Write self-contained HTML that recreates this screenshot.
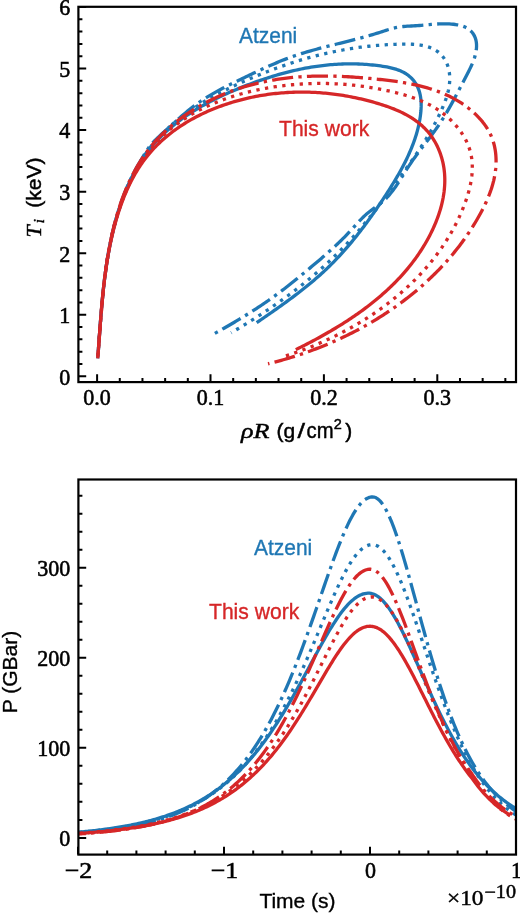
<!DOCTYPE html><html><head><meta charset="utf-8"><style>html,body{margin:0;padding:0;background:#fff;width:520px;height:914px;overflow:hidden}svg{display:block}.tl{font-family:"Liberation Serif",serif;font-size:22px;fill:#000;stroke:#000;stroke-width:0.55px}.sl{font-family:"Liberation Sans",sans-serif;font-size:21px;stroke-width:0.35px}.lab{stroke:#000;stroke-width:0.45px}</style></head><body>
<svg width="520" height="914" viewBox="0 0 520 914">
<rect width="520" height="914" fill="#fff"/>
<defs><clipPath id="ct"><rect x="78.4" y="6.8" width="437.6" height="375.3"/></clipPath><clipPath id="cb"><rect x="78.4" y="479.5" width="437.6" height="375.1"/></clipPath></defs>
<g clip-path="url(#ct)" fill="none" stroke-width="3.30" stroke-linejoin="round">
<path d="M97.86,356.44 L98.01,354.47 L98.16,352.49 L98.31,350.51 L98.46,348.53 L98.60,346.55 L98.75,344.57 L98.90,342.59 L99.04,340.61 L99.19,338.62 L99.34,336.64 L99.48,334.65 L99.63,332.66 L99.78,330.67 L99.93,328.68 L100.08,326.69 L100.23,324.70 L100.38,322.71 L100.54,320.72 L100.70,318.72 L100.86,316.73 L101.02,314.74 L101.19,312.74 L101.35,310.75 L101.52,308.75 L101.70,306.76 L101.88,304.77 L102.06,302.77 L102.24,300.78 L102.43,298.79 L102.63,296.79 L102.83,294.80 L103.03,292.81 L103.24,290.82 L103.45,288.83 L103.67,286.84 L103.89,284.85 L104.12,282.86 L104.36,280.87 L104.60,278.89 L104.85,276.90 L105.10,274.92 L105.36,272.94 L105.63,270.96 L105.91,268.98 L106.19,267.00 L106.48,265.02 L106.78,263.04 L107.08,261.07 L107.40,259.10 L107.72,257.13 L108.05,255.16 L108.39,253.19 L108.74,251.23 L109.10,249.27 L109.47,247.31 L109.84,245.35 L110.23,243.39 L110.63,241.44 L111.04,239.49 L111.45,237.54 L111.88,235.60 L112.32,233.65 L112.77,231.71 L113.23,229.78 L113.70,227.84 L114.19,225.91 L114.68,223.98 L115.19,222.06 L115.71,220.14 L116.24,218.22 L116.79,216.30 L117.35,214.39 L117.92,212.48 L118.50,210.58 L119.10,208.68 L119.71,206.78 L120.34,204.89 L120.98,203.00 L121.63,201.11 L122.30,199.23 L122.98,197.36 L123.68,195.49 L124.40,193.62 L125.13,191.77 L125.87,189.91 L126.64,188.07 L127.42,186.23 L128.22,184.39 L129.03,182.57 L129.86,180.75 L130.72,178.94 L131.58,177.14 L132.47,175.34 L133.38,173.56 L134.31,171.78 L135.25,170.01 L136.22,168.25 L137.20,166.51 L138.20,164.77 L139.22,163.03 L140.25,161.31 L141.28,159.59 L142.32,157.88 L143.36,156.17 L144.39,154.47 L145.43,152.78 L146.48,151.11 L147.55,149.46 L148.65,147.84 L149.80,146.26 L150.99,144.73 L152.24,143.25 L153.55,141.82 L154.91,140.44 L156.31,139.08 L157.74,137.75 L159.19,136.42 L160.64,135.09 L162.09,133.75 L163.55,132.41 L165.00,131.06 L166.47,129.72 L167.93,128.37 L169.41,127.02 L170.88,125.67 L172.36,124.32 L173.85,122.97 L175.34,121.63 L176.84,120.29 L178.35,118.96 L179.86,117.63 L181.38,116.31 L182.91,115.01 L184.45,113.71 L186.00,112.42 L187.55,111.14 L189.12,109.88 L190.69,108.63 L192.28,107.40 L193.87,106.18 L195.48,104.99 L197.10,103.81 L198.73,102.64 L200.37,101.50 L202.02,100.38 L203.69,99.29 L205.37,98.21 L207.06,97.15 L208.76,96.10 L210.47,95.08 L212.18,94.07 L213.91,93.07 L215.65,92.09 L217.39,91.13 L219.15,90.17 L220.90,89.23 L222.67,88.30 L224.44,87.38 L226.22,86.47 L228.00,85.57 L229.79,84.67 L231.58,83.78 L233.37,82.90 L235.17,82.02 L236.97,81.15 L238.78,80.28 L240.58,79.41 L242.39,78.55 L244.19,77.68 L246.00,76.82 L247.81,75.95 L249.62,75.08 L251.42,74.22 L253.23,73.36 L255.04,72.50 L256.86,71.64 L258.67,70.79 L260.48,69.94 L262.30,69.10 L264.12,68.26 L265.94,67.43 L267.76,66.60 L269.59,65.79 L271.42,64.98 L273.25,64.18 L275.08,63.39 L276.92,62.61 L278.76,61.84 L280.61,61.09 L282.46,60.34 L284.32,59.61 L286.18,58.89 L288.04,58.19 L289.91,57.50 L291.78,56.83 L293.66,56.17 L295.55,55.53 L297.43,54.89 L299.33,54.28 L301.23,53.67 L303.13,53.08 L305.03,52.50 L306.94,51.93 L308.85,51.37 L310.77,50.82 L312.69,50.28 L314.61,49.74 L316.54,49.22 L318.46,48.70 L320.39,48.19 L322.32,47.68 L324.26,47.18 L326.19,46.68 L328.13,46.19 L330.07,45.70 L332.01,45.22 L333.95,44.73 L335.89,44.25 L337.83,43.77 L339.77,43.29 L341.71,42.81 L343.66,42.33 L345.60,41.84 L347.54,41.36 L349.48,40.87 L351.42,40.38 L353.36,39.89 L355.30,39.39 L357.23,38.88 L359.17,38.37 L361.10,37.86 L363.03,37.33 L364.96,36.80 L366.89,36.27 L368.82,35.72 L370.74,35.16 L372.66,34.60 L374.57,34.02 L376.49,33.43 L378.40,32.83 L380.30,32.22 L382.20,31.60 L384.10,30.97 L386.00,30.35 L387.91,29.75 L389.81,29.17 L391.72,28.63 L393.64,28.13 L395.57,27.69 L397.51,27.30 L399.46,26.98 L401.42,26.72 L403.39,26.51 L405.37,26.34 L407.36,26.20 L409.35,26.09 L411.34,25.98 L413.34,25.88 L415.34,25.76 L417.33,25.64 L419.33,25.49 L421.32,25.33 L423.32,25.15 L425.31,24.98 L427.30,24.79 L429.30,24.61 L431.29,24.44 L433.29,24.28 L435.28,24.13 L437.28,24.01 L439.28,23.91 L441.28,23.84 L443.28,23.80 L445.29,23.79 L447.29,23.84 L449.31,23.92 L451.32,24.06 L453.34,24.25 L455.36,24.51 L457.38,24.83 L459.38,25.23 L461.35,25.73 L463.26,26.34 L465.10,27.08 L466.85,27.97 L468.49,29.00 L470.01,30.21 L471.39,31.56 L472.63,33.04 L473.71,34.65 L474.62,36.36 L475.36,38.16 L475.91,40.03 L476.29,41.97 L476.50,43.96 L476.56,45.97 L476.48,48.01 L476.27,50.05 L475.95,52.08 L475.53,54.09 L475.02,56.07 L474.44,58.01 L473.78,59.92 L473.06,61.81 L472.29,63.67 L471.47,65.51 L470.62,67.33 L469.75,69.13 L468.86,70.92 L467.96,72.70 L467.06,74.46 L466.15,76.22 L465.24,77.97 L464.33,79.72 L463.41,81.47 L462.50,83.22 L461.58,84.98 L460.66,86.74 L459.73,88.50 L458.81,90.26 L457.88,92.03 L456.95,93.80 L456.02,95.57 L455.08,97.34 L454.13,99.10 L453.18,100.87 L452.22,102.63 L451.26,104.39 L450.28,106.14 L449.30,107.89 L448.31,109.64 L447.30,111.38 L446.29,113.11 L445.26,114.83 L444.23,116.54 L443.18,118.25 L442.12,119.95 L441.04,121.63 L439.95,123.30 L438.84,124.97 L437.72,126.61 L436.58,128.25 L435.44,129.88 L434.28,131.49 L433.10,133.10 L431.92,134.70 L430.74,136.30 L429.54,137.89 L428.34,139.47 L427.14,141.05 L425.93,142.63 L424.72,144.21 L423.51,145.79 L422.30,147.37 L421.10,148.95 L419.90,150.54 L418.70,152.13 L417.51,153.72 L416.33,155.32 L415.15,156.93 L413.98,158.54 L412.83,160.17 L411.69,161.81 L410.56,163.45 L409.45,165.11 L408.35,166.79 L407.27,168.47 L406.20,170.17 L405.13,171.86 L404.07,173.57 L403.01,175.27 L401.95,176.97 L400.89,178.67 L399.82,180.36 L398.74,182.04 L397.65,183.71 L396.54,185.36 L395.41,187.00 L394.25,188.61 L393.08,190.21 L391.87,191.77 L390.64,193.31 L389.37,194.82 L388.06,196.29 L386.72,197.73 L385.33,199.12 L383.89,200.48 L382.41,201.79 L380.88,203.07 L379.32,204.31 L377.73,205.53 L376.13,206.73 L374.51,207.93 L372.90,209.13 L371.29,210.33 L369.69,211.55 L368.12,212.79 L366.58,214.06 L365.08,215.37 L363.62,216.73 L362.20,218.12 L360.81,219.54 L359.45,220.98 L358.09,222.43 L356.75,223.90 L355.41,225.37 L354.07,226.84 L352.73,228.31 L351.39,229.78 L350.04,231.25 L348.68,232.71 L347.31,234.16 L345.93,235.60 L344.53,237.03 L343.12,238.44 L341.70,239.85 L340.27,241.24 L338.83,242.63 L337.39,244.01 L335.93,245.38 L334.47,246.74 L333.00,248.09 L331.52,249.43 L330.04,250.77 L328.56,252.10 L327.07,253.42 L325.57,254.73 L324.07,256.04 L322.57,257.35 L321.06,258.65 L319.55,259.94 L318.04,261.23 L316.52,262.52 L315.00,263.80 L313.47,265.08 L311.95,266.36 L310.42,267.63 L308.89,268.91 L307.36,270.18 L305.83,271.45 L304.29,272.72 L302.75,273.99 L301.22,275.25 L299.68,276.52 L298.13,277.78 L296.59,279.04 L295.04,280.29 L293.49,281.55 L291.93,282.79 L290.37,284.04 L288.81,285.28 L287.24,286.51 L285.67,287.74 L284.09,288.96 L282.51,290.17 L280.92,291.38 L279.33,292.58 L277.73,293.77 L276.12,294.95 L274.51,296.12 L272.89,297.29 L271.27,298.45 L269.64,299.60 L268.00,300.74 L266.36,301.88 L264.72,303.01 L263.07,304.13 L261.41,305.25 L259.75,306.35 L258.09,307.45 L256.42,308.55 L254.75,309.64 L253.07,310.72 L251.38,311.79 L249.70,312.86 L248.01,313.92 L246.31,314.98 L244.62,316.03 L242.91,317.08 L241.21,318.12 L239.50,319.15 L237.79,320.18 L236.08,321.21 L234.36,322.23 L232.64,323.24 L230.92,324.25 L229.19,325.26 L227.47,326.26 L225.74,327.25 L224.01,328.25 L222.27,329.23 L220.54,330.22 L218.80,331.20 L217.06,332.18 L215.32,333.15 L213.58,334.12 L211.84,335.08" stroke="#1f77b4" stroke-dasharray="21.12 5.28 3.30 5.28" stroke-dashoffset="21.0"/>
<path d="M97.84,356.49 L98.00,354.50 L98.15,352.52 L98.31,350.53 L98.46,348.54 L98.61,346.56 L98.76,344.57 L98.91,342.58 L99.06,340.59 L99.20,338.60 L99.35,336.61 L99.50,334.61 L99.65,332.62 L99.80,330.63 L99.95,328.64 L100.10,326.65 L100.25,324.65 L100.40,322.66 L100.56,320.67 L100.72,318.67 L100.88,316.68 L101.04,314.69 L101.20,312.70 L101.37,310.70 L101.54,308.71 L101.71,306.72 L101.89,304.73 L102.06,302.74 L102.25,300.75 L102.44,298.76 L102.63,296.77 L102.82,294.78 L103.03,292.79 L103.23,290.81 L103.44,288.82 L103.66,286.83 L103.88,284.85 L104.11,282.87 L104.34,280.88 L104.58,278.90 L104.83,276.92 L105.08,274.94 L105.34,272.96 L105.61,270.99 L105.88,269.01 L106.17,267.04 L106.45,265.07 L106.75,263.10 L107.06,261.13 L107.37,259.16 L107.70,257.19 L108.03,255.23 L108.37,253.27 L108.72,251.31 L109.08,249.35 L109.45,247.39 L109.83,245.44 L110.22,243.48 L110.62,241.53 L111.03,239.59 L111.45,237.64 L111.88,235.70 L112.32,233.75 L112.78,231.82 L113.24,229.88 L113.72,227.94 L114.21,226.01 L114.71,224.08 L115.23,222.16 L115.76,220.23 L116.30,218.31 L116.85,216.40 L117.42,214.48 L118.00,212.57 L118.60,210.66 L119.21,208.75 L119.83,206.85 L120.47,204.95 L121.12,203.06 L121.79,201.16 L122.47,199.28 L123.17,197.39 L123.88,195.52 L124.61,193.65 L125.35,191.78 L126.11,189.92 L126.89,188.07 L127.68,186.23 L128.49,184.39 L129.31,182.56 L130.16,180.74 L131.01,178.93 L131.89,177.13 L132.78,175.34 L133.69,173.56 L134.62,171.79 L135.56,170.03 L136.52,168.28 L137.50,166.55 L138.50,164.82 L139.52,163.11 L140.55,161.41 L141.61,159.73 L142.68,158.06 L143.77,156.40 L144.88,154.76 L146.01,153.13 L147.16,151.52 L148.33,149.92 L149.51,148.35 L150.72,146.78 L151.95,145.24 L153.20,143.71 L154.47,142.20 L155.75,140.70 L157.06,139.23 L158.39,137.77 L159.73,136.32 L161.10,134.90 L162.48,133.49 L163.88,132.09 L165.29,130.72 L166.73,129.36 L168.18,128.01 L169.64,126.68 L171.12,125.36 L172.62,124.06 L174.13,122.78 L175.66,121.51 L177.20,120.25 L178.76,119.01 L180.33,117.79 L181.91,116.58 L183.51,115.38 L185.12,114.19 L186.74,113.02 L188.37,111.87 L190.02,110.72 L191.67,109.59 L193.34,108.47 L195.02,107.37 L196.71,106.28 L198.41,105.20 L200.12,104.13 L201.83,103.07 L203.56,102.03 L205.30,101.00 L207.04,99.98 L208.79,98.97 L210.55,97.97 L212.31,96.98 L214.09,96.01 L215.87,95.04 L217.65,94.09 L219.44,93.14 L221.24,92.21 L223.04,91.28 L224.85,90.37 L226.66,89.46 L228.47,88.57 L230.29,87.68 L232.11,86.81 L233.94,85.94 L235.77,85.08 L237.60,84.23 L239.43,83.39 L241.26,82.55 L243.10,81.73 L244.93,80.91 L246.77,80.10 L248.61,79.30 L250.44,78.50 L252.28,77.71 L254.12,76.94 L255.96,76.16 L257.80,75.40 L259.64,74.65 L261.48,73.90 L263.33,73.16 L265.17,72.43 L267.02,71.70 L268.87,70.99 L270.71,70.28 L272.56,69.59 L274.42,68.90 L276.27,68.21 L278.12,67.54 L279.98,66.88 L281.84,66.22 L283.70,65.57 L285.56,64.93 L287.43,64.30 L289.30,63.68 L291.17,63.07 L293.04,62.47 L294.91,61.87 L296.79,61.28 L298.67,60.71 L300.55,60.14 L302.43,59.58 L304.32,59.03 L306.21,58.49 L308.11,57.96 L310.00,57.43 L311.90,56.92 L313.80,56.42 L315.71,55.92 L317.62,55.44 L319.53,54.96 L321.45,54.49 L323.37,54.04 L325.29,53.59 L327.22,53.15 L329.15,52.72 L331.08,52.30 L333.02,51.89 L334.96,51.50 L336.91,51.11 L338.86,50.73 L340.81,50.36 L342.77,50.00 L344.74,49.65 L346.70,49.31 L348.68,48.98 L350.65,48.66 L352.64,48.35 L354.62,48.06 L356.61,47.77 L358.61,47.49 L360.61,47.22 L362.62,46.96 L364.63,46.72 L366.65,46.48 L368.67,46.26 L370.70,46.04 L372.73,45.84 L374.77,45.64 L376.81,45.46 L378.86,45.29 L380.92,45.13 L382.98,44.98 L385.05,44.84 L387.12,44.71 L389.20,44.59 L391.28,44.49 L393.38,44.39 L395.47,44.31 L397.58,44.24 L399.69,44.18 L401.80,44.13 L403.92,44.10 L406.02,44.10 L408.12,44.12 L410.21,44.18 L412.29,44.27 L414.34,44.40 L416.37,44.58 L418.38,44.80 L420.36,45.08 L422.30,45.41 L424.20,45.80 L426.07,46.25 L427.89,46.78 L429.66,47.37 L431.38,48.05 L433.04,48.80 L434.64,49.64 L436.18,50.57 L437.66,51.59 L439.06,52.71 L440.39,53.92 L441.65,55.24 L442.82,56.64 L443.91,58.12 L444.91,59.69 L445.83,61.32 L446.65,63.02 L447.38,64.78 L448.01,66.60 L448.54,68.46 L448.97,70.36 L449.30,72.30 L449.54,74.27 L449.69,76.26 L449.75,78.27 L449.72,80.28 L449.61,82.30 L449.42,84.32 L449.16,86.33 L448.82,88.33 L448.41,90.32 L447.95,92.30 L447.42,94.28 L446.84,96.24 L446.21,98.19 L445.54,100.13 L444.82,102.05 L444.08,103.97 L443.30,105.87 L442.49,107.76 L441.67,109.64 L440.82,111.50 L439.97,113.35 L439.09,115.19 L438.21,117.01 L437.31,118.83 L436.40,120.63 L435.47,122.41 L434.53,124.19 L433.58,125.96 L432.61,127.72 L431.64,129.46 L430.65,131.20 L429.65,132.93 L428.64,134.65 L427.62,136.36 L426.60,138.06 L425.56,139.75 L424.51,141.44 L423.45,143.12 L422.39,144.79 L421.31,146.46 L420.23,148.12 L419.14,149.77 L418.05,151.42 L416.95,153.06 L415.84,154.70 L414.72,156.34 L413.60,157.97 L412.47,159.60 L411.34,161.22 L410.21,162.85 L409.07,164.47 L407.92,166.08 L406.78,167.70 L405.63,169.31 L404.47,170.93 L403.32,172.54 L402.16,174.16 L401.00,175.77 L399.84,177.38 L398.67,178.99 L397.51,180.61 L396.34,182.22 L395.17,183.83 L393.99,185.44 L392.82,187.05 L391.64,188.66 L390.46,190.27 L389.27,191.87 L388.08,193.47 L386.89,195.08 L385.70,196.68 L384.50,198.27 L383.30,199.87 L382.09,201.46 L380.88,203.05 L379.67,204.64 L378.45,206.23 L377.23,207.81 L376.00,209.38 L374.77,210.96 L373.53,212.53 L372.29,214.10 L371.05,215.66 L369.80,217.22 L368.54,218.78 L367.28,220.33 L366.01,221.87 L364.74,223.41 L363.46,224.95 L362.18,226.48 L360.89,228.01 L359.59,229.53 L358.29,231.04 L356.98,232.55 L355.67,234.05 L354.35,235.55 L353.02,237.04 L351.68,238.53 L350.34,240.01 L348.99,241.48 L347.64,242.94 L346.27,244.40 L344.90,245.85 L343.52,247.29 L342.14,248.73 L340.74,250.15 L339.34,251.57 L337.93,252.99 L336.52,254.39 L335.09,255.79 L333.66,257.18 L332.23,258.57 L330.78,259.94 L329.33,261.31 L327.87,262.67 L326.41,264.03 L324.94,265.38 L323.46,266.72 L321.98,268.05 L320.48,269.38 L318.99,270.70 L317.48,272.01 L315.97,273.32 L314.46,274.62 L312.94,275.91 L311.41,277.20 L309.88,278.48 L308.34,279.75 L306.79,281.02 L305.24,282.28 L303.69,283.53 L302.13,284.78 L300.56,286.02 L298.99,287.25 L297.41,288.48 L295.83,289.70 L294.24,290.91 L292.65,292.12 L291.06,293.32 L289.46,294.52 L287.85,295.71 L286.24,296.89 L284.63,298.07 L283.01,299.24 L281.38,300.41 L279.76,301.57 L278.12,302.72 L276.49,303.87 L274.85,305.01 L273.21,306.15 L271.56,307.28 L269.91,308.40 L268.25,309.52 L266.60,310.63 L264.94,311.74 L263.27,312.84 L261.60,313.94 L259.93,315.03 L258.26,316.12 L256.58,317.20 L254.90,318.27 L253.22,319.34 L251.53,320.40 L249.84,321.46 L248.15,322.52 L246.46,323.56 L244.76,324.61 L243.06,325.64 L241.36,326.68 L239.66,327.70 L237.96,328.73 L236.25,329.74 L234.54,330.76 L232.83,331.76 L231.12,332.77" stroke="#1f77b4" stroke-dasharray="3.30 5.44"/>
<path d="M97.86,356.61 L98.01,354.58 L98.17,352.55 L98.33,350.53 L98.48,348.51 L98.63,346.50 L98.78,344.48 L98.93,342.47 L99.08,340.46 L99.22,338.45 L99.37,336.45 L99.52,334.45 L99.67,332.45 L99.81,330.45 L99.96,328.45 L100.11,326.46 L100.26,324.47 L100.41,322.48 L100.57,320.49 L100.72,318.50 L100.88,316.52 L101.04,314.54 L101.20,312.55 L101.36,310.57 L101.53,308.60 L101.70,306.62 L101.87,304.64 L102.05,302.67 L102.23,300.69 L102.42,298.72 L102.60,296.75 L102.80,294.78 L103.00,292.81 L103.20,290.84 L103.41,288.88 L103.62,286.91 L103.84,284.94 L104.07,282.98 L104.30,281.01 L104.54,279.05 L104.79,277.08 L105.04,275.12 L105.30,273.16 L105.57,271.20 L105.84,269.23 L106.12,267.27 L106.41,265.31 L106.71,263.34 L107.02,261.38 L107.33,259.42 L107.66,257.46 L107.99,255.49 L108.34,253.53 L108.69,251.57 L109.05,249.60 L109.43,247.64 L109.81,245.67 L110.20,243.70 L110.61,241.74 L111.02,239.77 L111.45,237.80 L111.89,235.84 L112.34,233.87 L112.80,231.91 L113.28,229.94 L113.76,227.98 L114.26,226.02 L114.77,224.07 L115.30,222.11 L115.83,220.16 L116.38,218.21 L116.95,216.27 L117.52,214.33 L118.12,212.40 L118.72,210.47 L119.34,208.54 L119.97,206.62 L120.62,204.71 L121.28,202.80 L121.96,200.90 L122.65,199.01 L123.35,197.12 L124.08,195.24 L124.81,193.37 L125.57,191.51 L126.34,189.66 L127.12,187.81 L127.92,185.98 L128.74,184.15 L129.58,182.34 L130.43,180.54 L131.30,178.74 L132.18,176.96 L133.09,175.19 L134.01,173.43 L134.95,171.68 L135.90,169.95 L136.88,168.22 L137.87,166.52 L138.89,164.82 L139.92,163.14 L140.97,161.47 L142.04,159.82 L143.12,158.18 L144.23,156.56 L145.36,154.95 L146.51,153.36 L147.67,151.79 L148.86,150.23 L150.07,148.69 L151.30,147.17 L152.55,145.66 L153.82,144.17 L155.11,142.70 L156.42,141.25 L157.76,139.82 L159.11,138.40 L160.48,137.00 L161.87,135.62 L163.28,134.25 L164.70,132.91 L166.15,131.57 L167.61,130.26 L169.09,128.96 L170.59,127.68 L172.10,126.41 L173.63,125.16 L175.18,123.93 L176.74,122.71 L178.31,121.51 L179.90,120.32 L181.51,119.14 L183.13,117.99 L184.76,116.84 L186.40,115.71 L188.06,114.60 L189.73,113.50 L191.42,112.42 L193.11,111.34 L194.82,110.29 L196.54,109.24 L198.27,108.21 L200.01,107.19 L201.76,106.19 L203.52,105.20 L205.29,104.22 L207.06,103.25 L208.85,102.30 L210.65,101.36 L212.45,100.43 L214.26,99.52 L216.08,98.61 L217.90,97.72 L219.73,96.84 L221.57,95.97 L223.41,95.11 L225.26,94.27 L227.12,93.43 L228.98,92.60 L230.84,91.79 L232.71,90.99 L234.58,90.19 L236.45,89.41 L238.33,88.63 L240.21,87.87 L242.09,87.12 L243.97,86.37 L245.86,85.64 L247.75,84.91 L249.64,84.19 L251.53,83.49 L253.42,82.79 L255.31,82.10 L257.20,81.43 L259.10,80.76 L261.00,80.10 L262.89,79.46 L264.80,78.82 L266.70,78.20 L268.60,77.58 L270.51,76.98 L272.41,76.39 L274.32,75.81 L276.23,75.24 L278.14,74.69 L280.06,74.14 L281.97,73.61 L283.89,73.09 L285.81,72.59 L287.73,72.09 L289.65,71.61 L291.58,71.14 L293.51,70.68 L295.43,70.24 L297.37,69.81 L299.30,69.40 L301.23,69.00 L303.17,68.61 L305.11,68.23 L307.05,67.87 L309.00,67.53 L310.94,67.20 L312.89,66.88 L314.84,66.58 L316.80,66.29 L318.75,66.02 L320.71,65.77 L322.67,65.53 L324.63,65.30 L326.60,65.09 L328.56,64.90 L330.53,64.72 L332.51,64.56 L334.48,64.42 L336.46,64.29 L338.44,64.18 L340.42,64.08 L342.41,64.01 L344.40,63.95 L346.39,63.90 L348.38,63.88 L350.38,63.87 L352.38,63.88 L354.38,63.91 L356.39,63.96 L358.40,64.02 L360.41,64.10 L362.42,64.21 L364.44,64.33 L366.46,64.47 L368.49,64.62 L370.51,64.80 L372.54,65.00 L374.57,65.22 L376.61,65.45 L378.65,65.71 L380.69,65.99 L382.74,66.28 L384.78,66.61 L386.81,66.97 L388.82,67.37 L390.82,67.80 L392.80,68.29 L394.74,68.83 L396.66,69.43 L398.53,70.10 L400.36,70.83 L402.14,71.64 L403.87,72.52 L405.54,73.49 L407.14,74.55 L408.67,75.69 L410.13,76.91 L411.50,78.21 L412.79,79.60 L413.99,81.06 L415.10,82.60 L416.12,84.20 L417.04,85.86 L417.87,87.57 L418.60,89.34 L419.23,91.16 L419.76,93.02 L420.20,94.92 L420.55,96.85 L420.81,98.82 L421.00,100.81 L421.11,102.82 L421.16,104.85 L421.13,106.89 L421.05,108.94 L420.91,111.00 L420.72,113.06 L420.48,115.11 L420.20,117.15 L419.88,119.19 L419.52,121.21 L419.14,123.21 L418.72,125.20 L418.27,127.17 L417.78,129.13 L417.27,131.08 L416.73,133.01 L416.17,134.93 L415.57,136.84 L414.95,138.74 L414.30,140.62 L413.63,142.50 L412.94,144.36 L412.22,146.21 L411.49,148.06 L410.73,149.89 L409.95,151.71 L409.16,153.53 L408.34,155.34 L407.51,157.13 L406.66,158.92 L405.79,160.71 L404.91,162.48 L404.01,164.25 L403.09,166.01 L402.16,167.76 L401.22,169.51 L400.26,171.25 L399.29,172.98 L398.31,174.71 L397.31,176.43 L396.31,178.14 L395.29,179.86 L394.27,181.56 L393.23,183.26 L392.19,184.96 L391.13,186.65 L390.07,188.34 L389.00,190.02 L387.93,191.70 L386.85,193.38 L385.76,195.05 L384.67,196.72 L383.57,198.39 L382.47,200.06 L381.36,201.72 L380.25,203.38 L379.13,205.03 L378.01,206.69 L376.88,208.34 L375.75,209.98 L374.61,211.62 L373.47,213.26 L372.32,214.89 L371.16,216.52 L370.00,218.14 L368.83,219.76 L367.66,221.38 L366.48,222.99 L365.29,224.59 L364.10,226.19 L362.90,227.78 L361.69,229.37 L360.47,230.95 L359.25,232.53 L358.02,234.10 L356.79,235.66 L355.54,237.22 L354.29,238.77 L353.03,240.31 L351.76,241.85 L350.48,243.37 L349.20,244.90 L347.91,246.41 L346.61,247.92 L345.30,249.42 L343.98,250.91 L342.65,252.39 L341.31,253.87 L339.97,255.33 L338.61,256.79 L337.25,258.24 L335.88,259.68 L334.49,261.12 L333.10,262.54 L331.70,263.95 L330.29,265.36 L328.86,266.75 L327.43,268.14 L325.99,269.51 L324.53,270.87 L323.07,272.23 L321.60,273.58 L320.11,274.91 L318.62,276.24 L317.12,277.56 L315.61,278.86 L314.09,280.17 L312.57,281.46 L311.03,282.74 L309.49,284.02 L307.95,285.28 L306.39,286.54 L304.83,287.80 L303.26,289.04 L301.69,290.28 L300.11,291.51 L298.53,292.74 L296.94,293.96 L295.34,295.17 L293.74,296.37 L292.14,297.57 L290.53,298.77 L288.92,299.96 L287.31,301.14 L285.69,302.32 L284.07,303.49 L282.45,304.66 L280.83,305.83 L279.20,306.99 L277.57,308.14 L275.95,309.29 L274.32,310.44 L272.69,311.59 L271.06,312.73 L269.42,313.86 L267.79,315.00 L266.16,316.13 L264.54,317.26 L262.91,318.39 L261.28,319.51 L259.66,320.64 L258.03,321.76" stroke="#1f77b4" stroke-linecap="square"/>
<path d="M97.87,355.60 L98.02,353.76 L98.17,351.91 L98.32,350.05 L98.47,348.18 L98.62,346.31 L98.76,344.42 L98.91,342.53 L99.05,340.63 L99.20,338.73 L99.34,336.82 L99.49,334.90 L99.64,332.97 L99.78,331.04 L99.93,329.10 L100.08,327.16 L100.23,325.21 L100.39,323.25 L100.54,321.29 L100.70,319.33 L100.86,317.36 L101.02,315.38 L101.18,313.40 L101.35,311.42 L101.52,309.43 L101.69,307.44 L101.87,305.45 L102.05,303.45 L102.23,301.45 L102.42,299.45 L102.61,297.44 L102.81,295.43 L103.01,293.42 L103.22,291.40 L103.43,289.39 L103.65,287.37 L103.87,285.35 L104.10,283.33 L104.34,281.31 L104.58,279.29 L104.83,277.27 L105.08,275.25 L105.34,273.23 L105.61,271.20 L105.88,269.18 L106.17,267.16 L106.46,265.14 L106.76,263.12 L107.06,261.10 L107.38,259.08 L107.70,257.07 L108.03,255.06 L108.37,253.04 L108.72,251.03 L109.08,249.03 L109.45,247.02 L109.83,245.02 L110.22,243.02 L110.62,241.03 L111.02,239.04 L111.44,237.05 L111.87,235.06 L112.31,233.08 L112.77,231.11 L113.23,229.14 L113.71,227.17 L114.19,225.21 L114.69,223.25 L115.20,221.30 L115.73,219.36 L116.26,217.42 L116.81,215.49 L117.38,213.56 L117.95,211.64 L118.54,209.73 L119.14,207.82 L119.76,205.92 L120.39,204.03 L121.04,202.14 L121.69,200.27 L122.37,198.40 L123.06,196.54 L123.76,194.68 L124.48,192.84 L125.22,191.01 L125.97,189.18 L126.74,187.36 L127.52,185.56 L128.32,183.76 L129.13,181.97 L129.97,180.20 L130.82,178.43 L131.68,176.67 L132.57,174.93 L133.47,173.19 L134.39,171.47 L135.33,169.76 L136.28,168.06 L137.26,166.37 L138.25,164.69 L139.26,163.03 L140.30,161.38 L141.35,159.74 L142.42,158.11 L143.51,156.50 L144.61,154.90 L145.74,153.32 L146.89,151.74 L148.07,150.19 L149.26,148.64 L150.47,147.11 L151.70,145.60 L152.96,144.10 L154.23,142.61 L155.53,141.14 L156.85,139.69 L158.19,138.25 L159.55,136.82 L160.93,135.41 L162.32,134.02 L163.74,132.64 L165.18,131.28 L166.63,129.93 L168.11,128.60 L169.60,127.29 L171.10,125.99 L172.63,124.70 L174.17,123.43 L175.73,122.18 L177.30,120.95 L178.89,119.73 L180.50,118.52 L182.12,117.33 L183.75,116.16 L185.40,115.01 L187.07,113.87 L188.74,112.75 L190.43,111.64 L192.14,110.55 L193.85,109.48 L195.58,108.42 L197.32,107.38 L199.07,106.36 L200.83,105.35 L202.60,104.37 L204.39,103.39 L206.18,102.44 L207.98,101.50 L209.80,100.58 L211.62,99.68 L213.45,98.79 L215.29,97.92 L217.13,97.07 L218.99,96.24 L220.85,95.42 L222.72,94.62 L224.59,93.84 L226.47,93.08 L228.36,92.33 L230.26,91.61 L232.15,90.90 L234.06,90.20 L235.96,89.53 L237.88,88.87 L239.79,88.24 L241.71,87.62 L243.63,87.01 L245.56,86.43 L247.49,85.87 L249.42,85.32 L251.35,84.79 L253.28,84.28 L255.22,83.79 L257.16,83.31 L259.10,82.85 L261.04,82.41 L262.99,81.98 L264.94,81.57 L266.89,81.18 L268.84,80.80 L270.79,80.44 L272.75,80.10 L274.71,79.77 L276.67,79.46 L278.63,79.16 L280.59,78.88 L282.56,78.61 L284.53,78.35 L286.49,78.11 L288.46,77.89 L290.44,77.68 L292.41,77.48 L294.38,77.29 L296.36,77.12 L298.34,76.97 L300.32,76.82 L302.30,76.69 L304.28,76.57 L306.26,76.47 L308.25,76.37 L310.23,76.29 L312.22,76.22 L314.21,76.16 L316.20,76.11 L318.19,76.08 L320.18,76.05 L322.17,76.04 L324.16,76.04 L326.16,76.05 L328.15,76.06 L330.15,76.09 L332.14,76.13 L334.14,76.18 L336.14,76.23 L338.14,76.30 L340.14,76.37 L342.14,76.46 L344.14,76.55 L346.14,76.65 L348.14,76.76 L350.14,76.88 L352.14,77.01 L354.14,77.14 L356.14,77.28 L358.15,77.43 L360.15,77.59 L362.15,77.75 L364.15,77.92 L366.16,78.10 L368.16,78.28 L370.16,78.47 L372.17,78.66 L374.17,78.86 L376.17,79.07 L378.17,79.28 L380.18,79.50 L382.18,79.72 L384.18,79.95 L386.18,80.18 L388.18,80.43 L390.18,80.68 L392.17,80.93 L394.17,81.20 L396.16,81.48 L398.14,81.77 L400.13,82.07 L402.11,82.38 L404.09,82.71 L406.06,83.05 L408.03,83.40 L409.99,83.77 L411.95,84.16 L413.90,84.56 L415.85,84.98 L417.79,85.42 L419.72,85.88 L421.65,86.35 L423.57,86.85 L425.48,87.37 L427.38,87.91 L429.28,88.47 L431.17,89.05 L433.05,89.66 L434.91,90.29 L436.77,90.95 L438.62,91.64 L440.46,92.35 L442.29,93.08 L444.11,93.85 L445.92,94.65 L447.71,95.47 L449.50,96.33 L451.27,97.21 L453.03,98.13 L454.77,99.08 L456.50,100.07 L458.22,101.08 L459.93,102.14 L461.62,103.23 L463.30,104.35 L464.96,105.51 L466.60,106.71 L468.22,107.94 L469.82,109.21 L471.40,110.51 L472.94,111.84 L474.46,113.22 L475.94,114.62 L477.39,116.06 L478.80,117.53 L480.17,119.03 L481.50,120.57 L482.78,122.14 L484.01,123.73 L485.20,125.36 L486.33,127.02 L487.40,128.71 L488.42,130.43 L489.38,132.18 L490.27,133.96 L491.10,135.76 L491.86,137.60 L492.56,139.46 L493.19,141.34 L493.75,143.25 L494.24,145.17 L494.68,147.12 L495.05,149.07 L495.37,151.04 L495.62,153.02 L495.82,155.00 L495.95,156.99 L496.04,158.98 L496.07,160.97 L496.05,162.95 L495.97,164.94 L495.85,166.91 L495.68,168.88 L495.46,170.84 L495.19,172.79 L494.88,174.74 L494.53,176.68 L494.13,178.61 L493.70,180.53 L493.22,182.45 L492.70,184.36 L492.15,186.26 L491.56,188.15 L490.94,190.04 L490.28,191.91 L489.60,193.78 L488.88,195.64 L488.13,197.49 L487.35,199.34 L486.55,201.17 L485.72,203.00 L484.87,204.81 L483.99,206.62 L483.09,208.42 L482.18,210.21 L481.24,211.99 L480.28,213.77 L479.31,215.53 L478.32,217.28 L477.32,219.03 L476.31,220.76 L475.28,222.49 L474.24,224.20 L473.19,225.91 L472.12,227.60 L471.04,229.29 L469.95,230.97 L468.85,232.63 L467.73,234.29 L466.60,235.94 L465.46,237.58 L464.30,239.21 L463.14,240.82 L461.96,242.43 L460.77,244.03 L459.56,245.63 L458.35,247.21 L457.12,248.78 L455.89,250.34 L454.64,251.89 L453.38,253.43 L452.11,254.97 L450.82,256.49 L449.53,258.00 L448.23,259.51 L446.91,261.00 L445.59,262.49 L444.25,263.96 L442.90,265.43 L441.54,266.88 L440.18,268.33 L438.80,269.77 L437.41,271.19 L436.01,272.61 L434.60,274.02 L433.18,275.41 L431.76,276.80 L430.32,278.18 L428.87,279.55 L427.41,280.91 L425.95,282.26 L424.47,283.60 L422.99,284.93 L421.49,286.25 L419.99,287.56 L418.48,288.86 L416.96,290.15 L415.43,291.44 L413.89,292.71 L412.35,293.97 L410.79,295.22 L409.23,296.47 L407.66,297.70 L406.08,298.92 L404.49,300.14 L402.90,301.34 L401.30,302.54 L399.68,303.72 L398.07,304.90 L396.44,306.06 L394.81,307.22 L393.17,308.36 L391.52,309.50 L389.87,310.62 L388.21,311.74 L386.54,312.85 L384.86,313.95 L383.18,315.03 L381.49,316.11 L379.80,317.18 L378.10,318.24 L376.39,319.29 L374.67,320.32 L372.95,321.35 L371.23,322.37 L369.50,323.38 L367.76,324.38 L366.02,325.37 L364.27,326.35 L362.51,327.32 L360.75,328.28 L358.99,329.23 L357.22,330.17 L355.44,331.11 L353.66,332.03 L351.87,332.94 L350.08,333.84 L348.29,334.73 L346.49,335.61 L344.68,336.49 L342.88,337.35 L341.06,338.20 L339.25,339.05 L337.42,339.88 L335.60,340.70 L333.77,341.52 L331.94,342.32 L330.10,343.11 L328.26,343.90 L326.42,344.67 L324.57,345.44 L322.72,346.19 L320.86,346.94 L319.01,347.67 L317.15,348.40 L315.28,349.11 L313.42,349.82 L311.55,350.51 L309.68,351.20 L307.80,351.87 L305.93,352.54 L304.05,353.20 L302.17,353.84 L300.28,354.48 L298.40,355.11 L296.51,355.72 L294.62,356.33 L292.73,356.93 L290.84,357.51 L288.94,358.09 L287.05,358.66 L285.15,359.22 L283.25,359.76 L281.35,360.30 L279.45,360.83 L277.55,361.35 L275.65,361.86 L273.75,362.35 L271.84,362.84 L269.94,363.32 L268.03,363.79" stroke="#d62728" stroke-dasharray="21.12 5.28 3.30 5.28" stroke-dashoffset="24.6"/>
<path d="M97.75,356.57 L97.94,354.55 L98.12,352.54 L98.29,350.53 L98.47,348.52 L98.64,346.52 L98.81,344.51 L98.97,342.50 L99.13,340.50 L99.30,338.49 L99.45,336.49 L99.61,334.49 L99.77,332.49 L99.92,330.49 L100.08,328.49 L100.23,326.49 L100.38,324.49 L100.54,322.50 L100.69,320.50 L100.85,318.51 L101.00,316.51 L101.16,314.52 L101.32,312.53 L101.48,310.54 L101.64,308.55 L101.81,306.56 L101.97,304.57 L102.15,302.59 L102.32,300.60 L102.50,298.62 L102.68,296.64 L102.87,294.65 L103.06,292.67 L103.25,290.69 L103.45,288.71 L103.66,286.74 L103.87,284.76 L104.08,282.78 L104.31,280.81 L104.54,278.83 L104.77,276.86 L105.02,274.89 L105.27,272.92 L105.52,270.95 L105.79,268.98 L106.06,267.01 L106.35,265.04 L106.64,263.08 L106.94,261.11 L107.25,259.15 L107.57,257.19 L107.89,255.23 L108.23,253.27 L108.58,251.31 L108.94,249.35 L109.31,247.39 L109.70,245.44 L110.09,243.48 L110.50,241.53 L110.91,239.57 L111.34,237.62 L111.79,235.67 L112.24,233.72 L112.71,231.77 L113.20,229.82 L113.69,227.88 L114.20,225.93 L114.73,223.99 L115.27,222.05 L115.83,220.11 L116.39,218.17 L116.98,216.23 L117.58,214.30 L118.19,212.37 L118.82,210.45 L119.47,208.53 L120.13,206.61 L120.80,204.70 L121.49,202.79 L122.20,200.89 L122.92,199.00 L123.66,197.11 L124.42,195.24 L125.19,193.36 L125.97,191.50 L126.78,189.64 L127.60,187.80 L128.44,185.96 L129.29,184.13 L130.16,182.31 L131.05,180.50 L131.95,178.70 L132.87,176.92 L133.81,175.14 L134.77,173.38 L135.74,171.63 L136.74,169.89 L137.74,168.16 L138.77,166.45 L139.82,164.75 L140.88,163.06 L141.96,161.39 L143.06,159.74 L144.18,158.10 L145.32,156.47 L146.47,154.86 L147.65,153.27 L148.84,151.70 L150.05,150.14 L151.28,148.60 L152.54,147.08 L153.81,145.57 L155.10,144.09 L156.40,142.62 L157.73,141.18 L159.08,139.75 L160.45,138.34 L161.84,136.96 L163.25,135.59 L164.67,134.25 L166.12,132.93 L167.58,131.62 L169.07,130.34 L170.57,129.08 L172.09,127.83 L173.62,126.61 L175.18,125.40 L176.75,124.22 L178.33,123.06 L179.94,121.91 L181.56,120.78 L183.19,119.68 L184.84,118.59 L186.50,117.52 L188.18,116.47 L189.88,115.44 L191.59,114.43 L193.31,113.43 L195.04,112.46 L196.79,111.50 L198.55,110.56 L200.32,109.64 L202.11,108.74 L203.90,107.85 L205.71,106.98 L207.53,106.13 L209.36,105.30 L211.20,104.49 L213.05,103.69 L214.92,102.91 L216.79,102.14 L218.67,101.40 L220.55,100.67 L222.45,99.96 L224.36,99.26 L226.27,98.58 L228.20,97.92 L230.12,97.27 L232.06,96.64 L234.00,96.03 L235.95,95.43 L237.91,94.85 L239.87,94.28 L241.84,93.73 L243.81,93.20 L245.79,92.68 L247.77,92.17 L249.76,91.68 L251.75,91.21 L253.74,90.75 L255.74,90.31 L257.74,89.88 L259.75,89.47 L261.75,89.07 L263.76,88.68 L265.77,88.31 L267.78,87.96 L269.80,87.61 L271.81,87.29 L273.82,86.97 L275.84,86.67 L277.85,86.39 L279.87,86.11 L281.88,85.85 L283.89,85.61 L285.91,85.38 L287.91,85.16 L289.92,84.95 L291.93,84.76 L293.93,84.58 L295.93,84.41 L297.93,84.26 L299.93,84.12 L301.92,83.99 L303.92,83.88 L305.91,83.77 L307.90,83.68 L309.88,83.61 L311.87,83.54 L313.85,83.49 L315.83,83.45 L317.82,83.43 L319.79,83.42 L321.77,83.42 L323.75,83.43 L325.72,83.46 L327.70,83.50 L329.67,83.55 L331.64,83.61 L333.61,83.69 L335.58,83.78 L337.55,83.88 L339.52,83.99 L341.49,84.12 L343.45,84.26 L345.42,84.41 L347.38,84.58 L349.35,84.76 L351.31,84.95 L353.27,85.15 L355.24,85.37 L357.20,85.60 L359.16,85.84 L361.12,86.09 L363.08,86.36 L365.04,86.63 L367.01,86.92 L368.97,87.23 L370.93,87.54 L372.89,87.87 L374.85,88.21 L376.82,88.56 L378.78,88.93 L380.74,89.31 L382.70,89.70 L384.67,90.10 L386.63,90.51 L388.60,90.94 L390.56,91.38 L392.53,91.83 L394.49,92.30 L396.46,92.78 L398.42,93.28 L400.37,93.80 L402.32,94.33 L404.27,94.88 L406.21,95.46 L408.15,96.06 L410.07,96.68 L411.99,97.32 L413.90,97.99 L415.80,98.68 L417.68,99.40 L419.56,100.15 L421.42,100.93 L423.26,101.73 L425.10,102.57 L426.91,103.44 L428.71,104.35 L430.50,105.29 L432.26,106.26 L434.01,107.27 L435.73,108.32 L437.44,109.41 L439.12,110.53 L440.78,111.70 L442.42,112.91 L444.03,114.15 L445.61,115.43 L447.17,116.74 L448.69,118.09 L450.18,119.48 L451.63,120.90 L453.05,122.34 L454.44,123.82 L455.78,125.33 L457.08,126.87 L458.34,128.44 L459.55,130.03 L460.72,131.65 L461.85,133.29 L462.92,134.96 L463.94,136.65 L464.91,138.36 L465.83,140.10 L466.69,141.85 L467.49,143.62 L468.23,145.41 L468.92,147.22 L469.54,149.04 L470.10,150.87 L470.59,152.72 L471.02,154.59 L471.38,156.46 L471.68,158.35 L471.92,160.25 L472.10,162.15 L472.22,164.07 L472.29,165.99 L472.30,167.92 L472.26,169.86 L472.17,171.80 L472.03,173.75 L471.84,175.70 L471.60,177.65 L471.32,179.61 L471.00,181.57 L470.63,183.53 L470.23,185.48 L469.79,187.44 L469.31,189.40 L468.79,191.35 L468.25,193.30 L467.67,195.25 L467.06,197.19 L466.42,199.12 L465.75,201.05 L465.06,202.97 L464.35,204.89 L463.61,206.79 L462.86,208.68 L462.08,210.57 L461.28,212.44 L460.47,214.30 L459.64,216.15 L458.79,217.99 L457.93,219.82 L457.05,221.64 L456.14,223.44 L455.23,225.24 L454.29,227.02 L453.34,228.80 L452.37,230.56 L451.39,232.31 L450.39,234.05 L449.37,235.78 L448.34,237.50 L447.29,239.21 L446.23,240.91 L445.15,242.59 L444.05,244.27 L442.94,245.93 L441.81,247.59 L440.67,249.23 L439.52,250.86 L438.35,252.48 L437.16,254.09 L435.96,255.69 L434.75,257.28 L433.52,258.85 L432.28,260.42 L431.03,261.97 L429.76,263.52 L428.48,265.05 L427.19,266.57 L425.88,268.08 L424.56,269.58 L423.23,271.07 L421.88,272.55 L420.52,274.02 L419.15,275.47 L417.77,276.92 L416.37,278.35 L414.97,279.78 L413.55,281.19 L412.12,282.59 L410.68,283.98 L409.23,285.36 L407.77,286.73 L406.29,288.09 L404.81,289.44 L403.32,290.77 L401.81,292.10 L400.30,293.41 L398.77,294.71 L397.24,296.01 L395.69,297.29 L394.14,298.56 L392.57,299.82 L391.00,301.06 L389.42,302.30 L387.83,303.53 L386.23,304.74 L384.62,305.95 L383.00,307.14 L381.38,308.33 L379.74,309.50 L378.10,310.66 L376.45,311.81 L374.79,312.95 L373.13,314.08 L371.46,315.19 L369.78,316.30 L368.09,317.39 L366.40,318.48 L364.70,319.55 L362.99,320.61 L361.28,321.67 L359.56,322.71 L357.84,323.74 L356.11,324.76 L354.37,325.76 L352.63,326.76 L350.88,327.75 L349.12,328.72 L347.37,329.69 L345.60,330.64 L343.83,331.58 L342.06,332.51 L340.28,333.43 L338.50,334.34 L336.71,335.24 L334.92,336.13 L333.13,337.01 L331.33,337.87 L329.53,338.73 L327.72,339.57 L325.92,340.41 L324.10,341.23 L322.29,342.04 L320.47,342.84 L318.65,343.63 L316.83,344.41 L315.01,345.18 L313.18,345.93 L311.35,346.68 L309.52,347.41 L307.69,348.14 L305.85,348.85 L304.02,349.55 L302.18,350.24 L300.34,350.92 L298.50,351.59 L296.66,352.25 L294.82,352.90 L292.98,353.54 L291.14,354.16 L289.30,354.78 L287.46,355.38 L285.62,355.97 L283.78,356.56" stroke="#d62728" stroke-dasharray="3.30 5.44"/>
<path d="M97.88,356.65 L98.03,354.60 L98.18,352.56 L98.34,350.52 L98.49,348.49 L98.63,346.46 L98.78,344.43 L98.93,342.41 L99.07,340.39 L99.22,338.38 L99.36,336.37 L99.51,334.36 L99.65,332.35 L99.80,330.35 L99.94,328.35 L100.09,326.35 L100.24,324.36 L100.39,322.37 L100.54,320.38 L100.69,318.40 L100.85,316.41 L101.01,314.43 L101.17,312.45 L101.33,310.47 L101.50,308.50 L101.67,306.53 L101.84,304.55 L102.02,302.58 L102.20,300.62 L102.39,298.65 L102.58,296.68 L102.77,294.72 L102.97,292.76 L103.18,290.79 L103.39,288.83 L103.61,286.87 L103.83,284.91 L104.06,282.95 L104.30,280.99 L104.54,279.03 L104.79,277.07 L105.04,275.12 L105.31,273.16 L105.58,271.20 L105.86,269.24 L106.15,267.28 L106.44,265.32 L106.75,263.36 L107.06,261.40 L107.39,259.44 L107.72,257.48 L108.06,255.52 L108.41,253.55 L108.77,251.59 L109.15,249.62 L109.53,247.65 L109.92,245.69 L110.33,243.72 L110.74,241.74 L111.17,239.77 L111.61,237.80 L112.06,235.82 L112.53,233.85 L113.00,231.88 L113.49,229.90 L113.99,227.93 L114.51,225.97 L115.04,224.00 L115.58,222.04 L116.14,220.08 L116.71,218.12 L117.29,216.17 L117.89,214.23 L118.51,212.29 L119.14,210.35 L119.79,208.42 L120.45,206.50 L121.13,204.58 L121.82,202.68 L122.53,200.78 L123.26,198.88 L124.00,197.00 L124.76,195.13 L125.54,193.26 L126.34,191.41 L127.16,189.57 L127.99,187.73 L128.84,185.91 L129.71,184.11 L130.60,182.31 L131.51,180.53 L132.44,178.76 L133.39,177.00 L134.35,175.26 L135.34,173.53 L136.35,171.82 L137.38,170.13 L138.43,168.45 L139.50,166.78 L140.60,165.14 L141.71,163.51 L142.85,161.90 L144.01,160.30 L145.19,158.73 L146.39,157.17 L147.62,155.64 L148.87,154.12 L150.14,152.63 L151.44,151.15 L152.75,149.69 L154.09,148.25 L155.44,146.83 L156.82,145.43 L158.22,144.05 L159.63,142.69 L161.07,141.35 L162.53,140.03 L164.00,138.72 L165.49,137.44 L167.00,136.17 L168.53,134.92 L170.08,133.70 L171.64,132.49 L173.22,131.29 L174.81,130.12 L176.42,128.97 L178.05,127.83 L179.69,126.72 L181.34,125.62 L183.02,124.54 L184.70,123.48 L186.40,122.44 L188.11,121.42 L189.84,120.41 L191.57,119.42 L193.32,118.45 L195.09,117.50 L196.86,116.57 L198.65,115.66 L200.44,114.76 L202.25,113.88 L204.07,113.02 L205.90,112.18 L207.73,111.36 L209.58,110.55 L211.44,109.76 L213.30,108.99 L215.17,108.24 L217.06,107.51 L218.94,106.79 L220.84,106.09 L222.74,105.41 L224.65,104.74 L226.57,104.10 L228.49,103.47 L230.41,102.85 L232.34,102.26 L234.28,101.68 L236.22,101.12 L238.17,100.58 L240.12,100.06 L242.07,99.55 L244.02,99.06 L245.98,98.58 L247.94,98.13 L249.91,97.69 L251.87,97.26 L253.84,96.86 L255.81,96.47 L257.78,96.10 L259.76,95.74 L261.73,95.41 L263.71,95.08 L265.69,94.78 L267.67,94.49 L269.65,94.22 L271.64,93.96 L273.62,93.73 L275.61,93.50 L277.60,93.30 L279.59,93.11 L281.58,92.94 L283.57,92.78 L285.56,92.64 L287.55,92.52 L289.54,92.41 L291.54,92.32 L293.53,92.24 L295.53,92.18 L297.52,92.14 L299.52,92.11 L301.51,92.10 L303.51,92.11 L305.50,92.13 L307.50,92.16 L309.49,92.21 L311.49,92.28 L313.48,92.37 L315.48,92.46 L317.47,92.58 L319.46,92.71 L321.45,92.85 L323.44,93.02 L325.43,93.19 L327.42,93.38 L329.41,93.59 L331.39,93.82 L333.38,94.05 L335.36,94.31 L337.34,94.58 L339.33,94.86 L341.30,95.16 L343.28,95.47 L345.26,95.80 L347.23,96.14 L349.20,96.50 L351.17,96.88 L353.14,97.26 L355.10,97.67 L357.06,98.09 L359.02,98.52 L360.98,98.97 L362.94,99.43 L364.89,99.91 L366.84,100.40 L368.78,100.90 L370.72,101.42 L372.66,101.96 L374.60,102.51 L376.53,103.07 L378.46,103.65 L380.39,104.24 L382.31,104.85 L384.23,105.47 L386.14,106.11 L388.05,106.77 L389.95,107.46 L391.83,108.17 L393.71,108.90 L395.58,109.66 L397.43,110.45 L399.28,111.27 L401.10,112.13 L402.91,113.01 L404.70,113.93 L406.47,114.88 L408.21,115.86 L409.94,116.87 L411.63,117.93 L413.30,119.01 L414.94,120.14 L416.55,121.30 L418.13,122.50 L419.67,123.74 L421.17,125.01 L422.64,126.33 L424.07,127.68 L425.46,129.08 L426.80,130.52 L428.10,132.00 L429.36,133.53 L430.56,135.10 L431.72,136.71 L432.83,138.35 L433.90,140.04 L434.91,141.75 L435.88,143.50 L436.80,145.28 L437.66,147.08 L438.48,148.91 L439.25,150.76 L439.97,152.63 L440.64,154.52 L441.26,156.42 L441.83,158.34 L442.35,160.27 L442.82,162.20 L443.24,164.15 L443.60,166.09 L443.92,168.05 L444.18,170.00 L444.40,171.96 L444.57,173.93 L444.69,175.89 L444.77,177.86 L444.80,179.83 L444.79,181.80 L444.73,183.77 L444.63,185.74 L444.49,187.71 L444.31,189.68 L444.09,191.65 L443.82,193.61 L443.52,195.58 L443.19,197.54 L442.81,199.50 L442.40,201.45 L441.95,203.40 L441.47,205.34 L440.96,207.28 L440.41,209.22 L439.83,211.14 L439.22,213.06 L438.58,214.98 L437.91,216.88 L437.21,218.78 L436.48,220.67 L435.73,222.55 L434.95,224.42 L434.14,226.28 L433.31,228.13 L432.46,229.97 L431.58,231.79 L430.68,233.61 L429.76,235.41 L428.82,237.20 L427.87,238.97 L426.89,240.74 L425.89,242.48 L424.88,244.22 L423.84,245.94 L422.79,247.64 L421.73,249.33 L420.64,251.01 L419.54,252.67 L418.42,254.32 L417.29,255.96 L416.14,257.59 L414.97,259.20 L413.79,260.79 L412.59,262.38 L411.38,263.95 L410.15,265.51 L408.91,267.05 L407.65,268.59 L406.37,270.11 L405.09,271.61 L403.79,273.11 L402.47,274.59 L401.14,276.06 L399.80,277.52 L398.44,278.97 L397.07,280.40 L395.69,281.82 L394.30,283.23 L392.89,284.63 L391.47,286.02 L390.04,287.40 L388.60,288.76 L387.14,290.11 L385.67,291.46 L384.20,292.79 L382.71,294.11 L381.21,295.42 L379.70,296.71 L378.18,298.00 L376.65,299.28 L375.11,300.54 L373.56,301.80 L372.00,303.04 L370.43,304.28 L368.86,305.50 L367.27,306.72 L365.68,307.92 L364.07,309.11 L362.46,310.30 L360.84,311.47 L359.22,312.64 L357.58,313.79 L355.94,314.94 L354.29,316.07 L352.64,317.20 L350.97,318.32 L349.30,319.43 L347.63,320.53 L345.95,321.62 L344.26,322.70 L342.57,323.77 L340.87,324.84 L339.17,325.89 L337.46,326.94 L335.75,327.98 L334.03,329.01 L332.31,330.03 L330.58,331.05 L328.85,332.05 L327.12,333.05 L325.38,334.04 L323.64,335.02 L321.90,336.00 L320.15,336.97 L318.40,337.93 L316.65,338.88 L314.89,339.83 L313.14,340.76 L311.38,341.69 L309.62,342.62 L307.86,343.54 L306.10,344.45 L304.34,345.35 L302.57,346.25 L300.81,347.14 L299.05,348.02 L297.28,348.90" stroke="#d62728" stroke-linecap="square"/>
</g>
<g clip-path="url(#cb)" fill="none" stroke-width="3.30" stroke-linejoin="round">
<path d="M70.70,833.91 L72.21,833.80 L73.72,833.70 L75.23,833.59 L76.73,833.47 L78.24,833.36 L79.75,833.24 L81.26,833.12 L82.77,832.99 L84.28,832.87 L85.79,832.73 L87.30,832.60 L88.80,832.46 L90.31,832.32 L91.82,832.17 L93.33,832.02 L94.84,831.87 L96.35,831.71 L97.86,831.55 L99.36,831.39 L100.87,831.22 L102.38,831.04 L103.89,830.86 L105.40,830.68 L106.91,830.49 L108.42,830.30 L109.93,830.10 L111.43,829.90 L112.94,829.69 L114.45,829.47 L115.96,829.25 L117.47,829.03 L118.98,828.80 L120.49,828.56 L121.99,828.32 L123.50,828.07 L125.01,827.81 L126.52,827.55 L128.03,827.28 L129.54,827.00 L131.05,826.72 L132.56,826.42 L134.06,826.12 L135.57,825.82 L137.08,825.50 L138.59,825.18 L140.10,824.85 L141.61,824.51 L143.12,824.16 L144.62,823.80 L146.13,823.43 L147.64,823.06 L149.15,822.67 L150.66,822.27 L152.17,821.86 L153.68,821.45 L155.19,821.02 L156.69,820.58 L158.20,820.13 L159.71,819.66 L161.22,819.19 L162.73,818.70 L164.24,818.20 L165.75,817.69 L167.25,817.16 L168.76,816.62 L170.27,816.07 L171.78,815.50 L173.29,814.92 L174.80,814.32 L176.31,813.71 L177.82,813.08 L179.32,812.43 L180.83,811.77 L182.34,811.09 L183.85,810.39 L185.36,809.68 L186.87,808.94 L188.38,808.19 L189.88,807.42 L191.39,806.63 L192.90,805.81 L194.41,804.98 L195.92,804.13 L197.43,803.25 L198.94,802.35 L200.45,801.43 L201.95,800.48 L203.46,799.51 L204.97,798.52 L206.48,797.50 L207.99,796.45 L209.50,795.38 L211.01,794.28 L212.51,793.15 L214.02,792.00 L215.53,790.81 L217.04,789.60 L218.55,788.35 L220.06,787.07 L221.57,785.76 L223.08,784.42 L224.58,783.04 L226.09,781.63 L227.60,780.19 L229.11,778.71 L230.62,777.19 L232.13,775.63 L233.64,774.04 L235.14,772.40 L236.65,770.73 L238.16,769.01 L239.67,767.26 L241.18,765.46 L242.69,763.61 L244.20,761.73 L245.71,759.79 L247.21,757.82 L248.72,755.79 L250.23,753.72 L251.74,751.59 L253.25,749.42 L254.76,747.20 L256.27,744.92 L257.77,742.60 L259.28,740.22 L260.79,737.79 L262.30,735.30 L263.81,732.76 L265.32,730.16 L266.83,727.50 L268.34,724.79 L269.84,722.02 L271.35,719.19 L272.86,716.30 L274.37,713.35 L275.88,710.34 L277.39,707.27 L278.90,704.14 L280.40,700.95 L281.91,697.70 L283.42,694.39 L284.93,691.01 L286.44,687.58 L287.95,684.09 L289.46,680.53 L290.97,676.92 L292.47,673.25 L293.98,669.52 L295.49,665.74 L297.00,661.90 L298.51,658.00 L300.02,654.06 L301.53,650.06 L303.03,646.02 L304.54,641.93 L306.05,637.79 L307.56,633.62 L309.07,629.41 L310.58,625.17 L312.09,620.89 L313.60,616.59 L315.10,612.26 L316.61,607.92 L318.12,603.57 L319.63,599.20 L321.14,594.84 L322.65,590.47 L324.16,586.12 L325.66,581.78 L327.17,577.47 L328.68,573.18 L330.19,568.93 L331.70,564.72 L333.21,560.56 L334.72,556.47 L336.23,552.44 L337.73,548.48 L339.24,544.61 L340.75,540.83 L342.26,537.15 L343.77,533.59 L345.28,530.14 L346.79,526.81 L348.29,523.63 L349.80,520.58 L351.31,517.69 L352.82,514.96 L354.33,512.39 L355.84,510.00 L357.35,507.79 L358.86,505.77 L360.36,503.95 L361.87,502.32 L363.38,500.90 L364.89,499.69 L366.40,498.70 L367.91,497.92 L369.42,497.35 L370.92,497.01 L372.43,496.90 L373.94,497.05 L375.45,497.53 L376.96,498.34 L378.47,499.47 L379.98,500.92 L381.49,502.68 L382.99,504.75 L384.50,507.11 L386.01,509.76 L387.52,512.68 L389.03,515.87 L390.54,519.31 L392.05,522.99 L393.55,526.90 L395.06,531.02 L396.57,535.34 L398.08,539.83 L399.59,544.50 L401.10,549.32 L402.61,554.27 L404.12,559.35 L405.62,564.54 L407.13,569.82 L408.64,575.18 L410.15,580.60 L411.66,586.07 L413.17,591.59 L414.68,597.13 L416.18,602.68 L417.69,608.24 L419.20,613.79 L420.71,619.32 L422.22,624.83 L423.73,630.30 L425.24,635.73 L426.75,641.11 L428.25,646.43 L429.76,651.69 L431.27,656.87 L432.78,661.98 L434.29,667.02 L435.80,671.97 L437.31,676.83 L438.81,681.60 L440.32,686.28 L441.83,690.87 L443.34,695.35 L444.85,699.75 L446.36,704.04 L447.87,708.23 L449.38,712.32 L450.88,716.31 L452.39,720.21 L453.90,724.00 L455.41,727.69 L456.92,731.28 L458.43,734.78 L459.94,738.18 L461.44,741.48 L462.95,744.69 L464.46,747.81 L465.97,750.83 L467.48,753.77 L468.99,756.62 L470.50,759.38 L472.01,762.06 L473.51,764.65 L475.02,767.17 L476.53,769.60 L478.04,771.96 L479.55,774.24 L481.06,776.45 L482.57,778.58 L484.07,780.65 L485.58,782.65 L487.09,784.59 L488.60,786.46 L490.11,788.26 L491.62,790.01 L493.13,791.70 L494.64,793.33 L496.14,794.91 L497.65,796.43 L499.16,797.90 L500.67,799.32 L502.18,800.69 L503.69,802.02 L505.20,803.30 L506.70,804.53 L508.21,805.72 L509.72,806.87 L511.23,807.98 L512.74,809.06 L514.25,810.09 L515.76,811.09 L517.27,812.05 L518.77,812.98 L520.28,813.87 L521.79,814.74 L523.30,815.57" stroke="#1f77b4" stroke-dasharray="21.12 5.28 3.30 5.28" stroke-dashoffset="4.8"/>
<path d="M70.70,833.07 L72.21,832.96 L73.72,832.84 L75.23,832.72 L76.73,832.59 L78.24,832.47 L79.75,832.34 L81.26,832.20 L82.77,832.07 L84.28,831.93 L85.79,831.79 L87.30,831.64 L88.80,831.49 L90.31,831.34 L91.82,831.18 L93.33,831.02 L94.84,830.86 L96.35,830.69 L97.86,830.52 L99.36,830.34 L100.87,830.16 L102.38,829.98 L103.89,829.79 L105.40,829.59 L106.91,829.40 L108.42,829.19 L109.93,828.99 L111.43,828.77 L112.94,828.56 L114.45,828.33 L115.96,828.10 L117.47,827.87 L118.98,827.63 L120.49,827.39 L121.99,827.14 L123.50,826.88 L125.01,826.62 L126.52,826.35 L128.03,826.07 L129.54,825.79 L131.05,825.50 L132.56,825.20 L134.06,824.90 L135.57,824.59 L137.08,824.27 L138.59,823.95 L140.10,823.62 L141.61,823.28 L143.12,822.93 L144.62,822.57 L146.13,822.20 L147.64,821.83 L149.15,821.45 L150.66,821.06 L152.17,820.65 L153.68,820.24 L155.19,819.82 L156.69,819.39 L158.20,818.95 L159.71,818.50 L161.22,818.03 L162.73,817.56 L164.24,817.08 L165.75,816.58 L167.25,816.07 L168.76,815.55 L170.27,815.02 L171.78,814.47 L173.29,813.92 L174.80,813.35 L176.31,812.76 L177.82,812.16 L179.32,811.55 L180.83,810.92 L182.34,810.28 L183.85,809.62 L185.36,808.95 L186.87,808.26 L188.38,807.55 L189.88,806.83 L191.39,806.09 L192.90,805.34 L194.41,804.56 L195.92,803.77 L197.43,802.96 L198.94,802.13 L200.45,801.28 L201.95,800.41 L203.46,799.52 L204.97,798.61 L206.48,797.67 L207.99,796.72 L209.50,795.74 L211.01,794.74 L212.51,793.72 L214.02,792.67 L215.53,791.60 L217.04,790.51 L218.55,789.38 L220.06,788.24 L221.57,787.06 L223.08,785.86 L224.58,784.63 L226.09,783.37 L227.60,782.09 L229.11,780.77 L230.62,779.42 L232.13,778.05 L233.64,776.64 L235.14,775.20 L236.65,773.72 L238.16,772.22 L239.67,770.68 L241.18,769.10 L242.69,767.49 L244.20,765.85 L245.71,764.16 L247.21,762.44 L248.72,760.68 L250.23,758.89 L251.74,757.05 L253.25,755.18 L254.76,753.26 L256.27,751.30 L257.77,749.30 L259.28,747.26 L260.79,745.18 L262.30,743.05 L263.81,740.87 L265.32,738.66 L266.83,736.39 L268.34,734.09 L269.84,731.73 L271.35,729.33 L272.86,726.88 L274.37,724.39 L275.88,721.84 L277.39,719.25 L278.90,716.61 L280.40,713.92 L281.91,711.19 L283.42,708.40 L284.93,705.57 L286.44,702.69 L287.95,699.76 L289.46,696.78 L290.97,693.76 L292.47,690.69 L293.98,687.58 L295.49,684.42 L297.00,681.22 L298.51,677.97 L300.02,674.68 L301.53,671.36 L303.03,667.99 L304.54,664.59 L306.05,661.15 L307.56,657.69 L309.07,654.19 L310.58,650.66 L312.09,647.11 L313.60,643.54 L315.10,639.96 L316.61,636.36 L318.12,632.74 L319.63,629.13 L321.14,625.51 L322.65,621.89 L324.16,618.28 L325.66,614.69 L327.17,611.11 L328.68,607.56 L330.19,604.03 L331.70,600.54 L333.21,597.10 L334.72,593.70 L336.23,590.36 L337.73,587.09 L339.24,583.88 L340.75,580.75 L342.26,577.70 L343.77,574.74 L345.28,571.89 L346.79,569.14 L348.29,566.50 L349.80,563.98 L351.31,561.59 L352.82,559.33 L354.33,557.21 L355.84,555.24 L357.35,553.42 L358.86,551.76 L360.36,550.27 L361.87,548.94 L363.38,547.78 L364.89,546.80 L366.40,546.00 L367.91,545.38 L369.42,544.95 L370.92,544.70 L372.43,544.63 L373.94,544.78 L375.45,545.15 L376.96,545.74 L378.47,546.55 L379.98,547.58 L381.49,548.82 L382.99,550.28 L384.50,551.94 L386.01,553.80 L387.52,555.86 L389.03,558.11 L390.54,560.55 L392.05,563.16 L393.55,565.95 L395.06,568.91 L396.57,572.02 L398.08,575.28 L399.59,578.68 L401.10,582.21 L402.61,585.87 L404.12,589.65 L405.62,593.54 L407.13,597.52 L408.64,601.59 L410.15,605.75 L411.66,609.97 L413.17,614.26 L414.68,618.61 L416.18,623.00 L417.69,627.44 L419.20,631.90 L420.71,636.39 L422.22,640.89 L423.73,645.40 L425.24,649.91 L426.75,654.42 L428.25,658.91 L429.76,663.39 L431.27,667.84 L432.78,672.27 L434.29,676.66 L435.80,681.00 L437.31,685.31 L438.81,689.56 L440.32,693.77 L441.83,697.91 L443.34,702.00 L444.85,706.03 L446.36,709.99 L447.87,713.88 L449.38,717.70 L450.88,721.45 L452.39,725.12 L453.90,728.72 L455.41,732.25 L456.92,735.69 L458.43,739.06 L459.94,742.35 L461.44,745.56 L462.95,748.70 L464.46,751.75 L465.97,754.72 L467.48,757.62 L468.99,760.44 L470.50,763.18 L472.01,765.84 L473.51,768.42 L475.02,770.94 L476.53,773.37 L478.04,775.74 L479.55,778.03 L481.06,780.25 L482.57,782.40 L484.07,784.48 L485.58,786.49 L487.09,788.44 L488.60,790.33 L490.11,792.15 L491.62,793.91 L493.13,795.61 L494.64,797.26 L496.14,798.84 L497.65,800.37 L499.16,801.85 L500.67,803.27 L502.18,804.64 L503.69,805.97 L505.20,807.24 L506.70,808.47 L508.21,809.65 L509.72,810.79 L511.23,811.89 L512.74,812.95 L514.25,813.96 L515.76,814.94 L517.27,815.88 L518.77,816.78 L520.28,817.65 L521.79,818.48 L523.30,819.29" stroke="#1f77b4" stroke-dasharray="3.30 5.44"/>
<path d="M70.70,832.83 L72.21,832.71 L73.72,832.59 L75.23,832.47 L76.73,832.34 L78.24,832.21 L79.75,832.07 L81.26,831.94 L82.77,831.80 L84.28,831.65 L85.79,831.50 L87.30,831.35 L88.80,831.20 L90.31,831.04 L91.82,830.88 L93.33,830.71 L94.84,830.54 L96.35,830.37 L97.86,830.19 L99.36,830.01 L100.87,829.83 L102.38,829.64 L103.89,829.44 L105.40,829.24 L106.91,829.04 L108.42,828.83 L109.93,828.62 L111.43,828.40 L112.94,828.17 L114.45,827.94 L115.96,827.71 L117.47,827.47 L118.98,827.22 L120.49,826.97 L121.99,826.71 L123.50,826.45 L125.01,826.18 L126.52,825.90 L128.03,825.62 L129.54,825.33 L131.05,825.04 L132.56,824.73 L134.06,824.42 L135.57,824.11 L137.08,823.78 L138.59,823.45 L140.10,823.11 L141.61,822.76 L143.12,822.41 L144.62,822.04 L146.13,821.67 L147.64,821.29 L149.15,820.89 L150.66,820.49 L152.17,820.09 L153.68,819.67 L155.19,819.24 L156.69,818.80 L158.20,818.35 L159.71,817.89 L161.22,817.42 L162.73,816.94 L164.24,816.45 L165.75,815.95 L167.25,815.43 L168.76,814.90 L170.27,814.36 L171.78,813.81 L173.29,813.25 L174.80,812.67 L176.31,812.08 L177.82,811.47 L179.32,810.85 L180.83,810.22 L182.34,809.57 L183.85,808.91 L185.36,808.23 L186.87,807.54 L188.38,806.83 L189.88,806.10 L191.39,805.36 L192.90,804.60 L194.41,803.83 L195.92,803.03 L197.43,802.22 L198.94,801.39 L200.45,800.54 L201.95,799.67 L203.46,798.78 L204.97,797.87 L206.48,796.95 L207.99,796.00 L209.50,795.03 L211.01,794.03 L212.51,793.02 L214.02,791.98 L215.53,790.92 L217.04,789.84 L218.55,788.73 L220.06,787.60 L221.57,786.44 L223.08,785.26 L224.58,784.05 L226.09,782.82 L227.60,781.56 L229.11,780.27 L230.62,778.96 L232.13,777.62 L233.64,776.25 L235.14,774.85 L236.65,773.42 L238.16,771.96 L239.67,770.47 L241.18,768.95 L242.69,767.40 L244.20,765.82 L245.71,764.21 L247.21,762.56 L248.72,760.88 L250.23,759.17 L251.74,757.43 L253.25,755.65 L254.76,753.84 L256.27,752.00 L257.77,750.12 L259.28,748.20 L260.79,746.25 L262.30,744.27 L263.81,742.25 L265.32,740.20 L266.83,738.11 L268.34,735.98 L269.84,733.82 L271.35,731.63 L272.86,729.40 L274.37,727.13 L275.88,724.84 L277.39,722.50 L278.90,720.14 L280.40,717.74 L281.91,715.31 L283.42,712.85 L284.93,710.35 L286.44,707.83 L287.95,705.27 L289.46,702.69 L290.97,700.08 L292.47,697.45 L293.98,694.79 L295.49,692.10 L297.00,689.40 L298.51,686.67 L300.02,683.93 L301.53,681.17 L303.03,678.40 L304.54,675.61 L306.05,672.82 L307.56,670.02 L309.07,667.21 L310.58,664.40 L312.09,661.60 L313.60,658.80 L315.10,656.00 L316.61,653.22 L318.12,650.45 L319.63,647.70 L321.14,644.97 L322.65,642.26 L324.16,639.59 L325.66,636.94 L327.17,634.34 L328.68,631.78 L330.19,629.26 L331.70,626.79 L333.21,624.38 L334.72,622.02 L336.23,619.73 L337.73,617.51 L339.24,615.36 L340.75,613.28 L342.26,611.29 L343.77,609.38 L345.28,607.56 L346.79,605.83 L348.29,604.20 L349.80,602.67 L351.31,601.24 L352.82,599.92 L354.33,598.71 L355.84,597.62 L357.35,596.64 L358.86,595.78 L360.36,595.03 L361.87,594.42 L363.38,593.92 L364.89,593.55 L366.40,593.31 L367.91,593.19 L369.42,593.21 L370.92,593.40 L372.43,593.75 L373.94,594.28 L375.45,594.98 L376.96,595.85 L378.47,596.88 L379.98,598.07 L381.49,599.42 L382.99,600.93 L384.50,602.58 L386.01,604.38 L387.52,606.32 L389.03,608.39 L390.54,610.59 L392.05,612.91 L393.55,615.35 L395.06,617.89 L396.57,620.54 L398.08,623.29 L399.59,626.12 L401.10,629.04 L402.61,632.03 L404.12,635.09 L405.62,638.22 L407.13,641.40 L408.64,644.63 L410.15,647.90 L411.66,651.21 L413.17,654.55 L414.68,657.91 L416.18,661.29 L417.69,664.69 L419.20,668.09 L420.71,671.50 L422.22,674.90 L423.73,678.30 L425.24,681.69 L426.75,685.06 L428.25,688.41 L429.76,691.74 L431.27,695.05 L432.78,698.32 L434.29,701.57 L435.80,704.78 L437.31,707.95 L438.81,711.08 L440.32,714.17 L441.83,717.22 L443.34,720.22 L444.85,723.18 L446.36,726.09 L447.87,728.95 L449.38,731.76 L450.88,734.53 L452.39,737.24 L453.90,739.89 L455.41,742.50 L456.92,745.05 L458.43,747.56 L459.94,750.01 L461.44,752.40 L462.95,754.75 L464.46,757.04 L465.97,759.28 L467.48,761.47 L468.99,763.61 L470.50,765.70 L472.01,767.73 L473.51,769.72 L475.02,771.66 L476.53,773.55 L478.04,775.40 L479.55,777.19 L481.06,778.95 L482.57,780.65 L484.07,782.31 L485.58,783.93 L487.09,785.51 L488.60,787.04 L490.11,788.53 L491.62,789.98 L493.13,791.39 L494.64,792.77 L496.14,794.10 L497.65,795.40 L499.16,796.67 L500.67,797.89 L502.18,799.09 L503.69,800.24 L505.20,801.37 L506.70,802.47 L508.21,803.53 L509.72,804.56 L511.23,805.56 L512.74,806.54 L514.25,807.48 L515.76,808.40 L517.27,809.29 L518.77,810.16 L520.28,811.00 L521.79,811.81 L523.30,812.61" stroke="#1f77b4" stroke-linecap="square"/>
<path d="M70.70,834.46 L72.21,834.38 L73.72,834.29 L75.23,834.19 L76.73,834.10 L78.24,834.00 L79.75,833.90 L81.26,833.80 L82.77,833.69 L84.28,833.59 L85.79,833.48 L87.30,833.36 L88.80,833.25 L90.31,833.13 L91.82,833.01 L93.33,832.88 L94.84,832.75 L96.35,832.62 L97.86,832.48 L99.36,832.35 L100.87,832.20 L102.38,832.06 L103.89,831.91 L105.40,831.76 L106.91,831.60 L108.42,831.44 L109.93,831.27 L111.43,831.10 L112.94,830.93 L114.45,830.75 L115.96,830.57 L117.47,830.38 L118.98,830.19 L120.49,829.99 L121.99,829.79 L123.50,829.58 L125.01,829.37 L126.52,829.15 L128.03,828.92 L129.54,828.69 L131.05,828.46 L132.56,828.22 L134.06,827.97 L135.57,827.72 L137.08,827.46 L138.59,827.19 L140.10,826.91 L141.61,826.63 L143.12,826.35 L144.62,826.05 L146.13,825.75 L147.64,825.44 L149.15,825.12 L150.66,824.79 L152.17,824.46 L153.68,824.11 L155.19,823.76 L156.69,823.40 L158.20,823.03 L159.71,822.65 L161.22,822.26 L162.73,821.86 L164.24,821.45 L165.75,821.03 L167.25,820.59 L168.76,820.15 L170.27,819.70 L171.78,819.23 L173.29,818.76 L174.80,818.27 L176.31,817.77 L177.82,817.25 L179.32,816.73 L180.83,816.18 L182.34,815.63 L183.85,815.06 L185.36,814.48 L186.87,813.88 L188.38,813.27 L189.88,812.64 L191.39,812.00 L192.90,811.34 L194.41,810.66 L195.92,809.96 L197.43,809.25 L198.94,808.52 L200.45,807.77 L201.95,807.01 L203.46,806.22 L204.97,805.41 L206.48,804.59 L207.99,803.74 L209.50,802.87 L211.01,801.98 L212.51,801.07 L214.02,800.13 L215.53,799.17 L217.04,798.19 L218.55,797.19 L220.06,796.15 L221.57,795.10 L223.08,794.01 L224.58,792.90 L226.09,791.76 L227.60,790.60 L229.11,789.40 L230.62,788.18 L232.13,786.92 L233.64,785.64 L235.14,784.32 L236.65,782.98 L238.16,781.60 L239.67,780.18 L241.18,778.74 L242.69,777.25 L244.20,775.74 L245.71,774.18 L247.21,772.59 L248.72,770.97 L250.23,769.30 L251.74,767.60 L253.25,765.85 L254.76,764.07 L256.27,762.24 L257.77,760.38 L259.28,758.47 L260.79,756.52 L262.30,754.52 L263.81,752.48 L265.32,750.40 L266.83,748.27 L268.34,746.10 L269.84,743.88 L271.35,741.61 L272.86,739.29 L274.37,736.93 L275.88,734.52 L277.39,732.06 L278.90,729.56 L280.40,727.00 L281.91,724.40 L283.42,721.75 L284.93,719.05 L286.44,716.30 L287.95,713.51 L289.46,710.66 L290.97,707.77 L292.47,704.84 L293.98,701.86 L295.49,698.83 L297.00,695.76 L298.51,692.65 L300.02,689.50 L301.53,686.30 L303.03,683.07 L304.54,679.81 L306.05,676.51 L307.56,673.18 L309.07,669.82 L310.58,666.44 L312.09,663.04 L313.60,659.61 L315.10,656.17 L316.61,652.72 L318.12,649.26 L319.63,645.80 L321.14,642.34 L322.65,638.88 L324.16,635.44 L325.66,632.01 L327.17,628.61 L328.68,625.23 L330.19,621.89 L331.70,618.59 L333.21,615.34 L334.72,612.14 L336.23,609.01 L337.73,605.94 L339.24,602.94 L340.75,600.03 L342.26,597.21 L343.77,594.49 L345.28,591.87 L346.79,589.36 L348.29,586.97 L349.80,584.71 L351.31,582.57 L352.82,580.58 L354.33,578.73 L355.84,577.03 L357.35,575.49 L358.86,574.10 L360.36,572.89 L361.87,571.84 L363.38,570.96 L364.89,570.26 L366.40,569.74 L367.91,569.40 L369.42,569.23 L370.92,569.27 L372.43,569.54 L373.94,570.05 L375.45,570.81 L376.96,571.80 L378.47,573.02 L379.98,574.48 L381.49,576.15 L382.99,578.04 L384.50,580.14 L386.01,582.44 L387.52,584.93 L389.03,587.60 L390.54,590.44 L392.05,593.45 L393.55,596.61 L395.06,599.90 L396.57,603.33 L398.08,606.88 L399.59,610.53 L401.10,614.28 L402.61,618.12 L404.12,622.03 L405.62,626.01 L407.13,630.04 L408.64,634.12 L410.15,638.24 L411.66,642.38 L413.17,646.53 L414.68,650.70 L416.18,654.87 L417.69,659.03 L419.20,663.18 L420.71,667.31 L422.22,671.42 L423.73,675.49 L425.24,679.53 L426.75,683.53 L428.25,687.48 L429.76,691.38 L431.27,695.23 L432.78,699.02 L434.29,702.76 L435.80,706.43 L437.31,710.04 L438.81,713.58 L440.32,717.06 L441.83,720.46 L443.34,723.80 L444.85,727.07 L446.36,730.27 L447.87,733.40 L449.38,736.46 L450.88,739.44 L452.39,742.36 L453.90,745.20 L455.41,747.97 L456.92,750.68 L458.43,753.31 L459.94,755.88 L461.44,758.38 L462.95,760.81 L464.46,763.18 L465.97,765.48 L467.48,767.72 L468.99,769.90 L470.50,772.01 L472.01,774.07 L473.51,776.31 L475.02,778.52 L476.53,780.65 L478.04,782.71 L479.55,784.70 L481.06,786.62 L482.57,788.48 L484.07,790.27 L485.58,792.01 L487.09,793.68 L488.60,795.30 L490.11,796.86 L491.62,798.36 L493.13,799.81 L494.64,801.22 L496.14,802.57 L497.65,803.87 L499.16,805.13 L500.67,806.35 L502.18,807.52 L503.69,808.64 L505.20,809.73 L506.70,810.78 L508.21,811.79 L509.72,812.77 L511.23,813.71 L512.74,814.61 L514.25,815.49 L515.76,816.33 L517.27,817.05 L518.77,817.73 L520.28,818.38 L521.79,819.02 L523.30,819.63" stroke="#d62728" stroke-dasharray="21.12 5.28 3.30 5.28" stroke-dashoffset="6.0"/>
<path d="M70.70,833.84 L72.21,833.75 L73.72,833.65 L75.23,833.55 L76.73,833.45 L78.24,833.34 L79.75,833.24 L81.26,833.13 L82.77,833.01 L84.28,832.90 L85.79,832.78 L87.30,832.66 L88.80,832.54 L90.31,832.41 L91.82,832.28 L93.33,832.15 L94.84,832.02 L96.35,831.88 L97.86,831.74 L99.36,831.59 L100.87,831.44 L102.38,831.29 L103.89,831.14 L105.40,830.98 L106.91,830.81 L108.42,830.65 L109.93,830.48 L111.43,830.30 L112.94,830.12 L114.45,829.94 L115.96,829.75 L117.47,829.56 L118.98,829.36 L120.49,829.16 L121.99,828.96 L123.50,828.75 L125.01,828.53 L126.52,828.31 L128.03,828.09 L129.54,827.86 L131.05,827.62 L132.56,827.38 L134.06,827.13 L135.57,826.88 L137.08,826.62 L138.59,826.35 L140.10,826.08 L141.61,825.80 L143.12,825.52 L144.62,825.23 L146.13,824.93 L147.64,824.63 L149.15,824.31 L150.66,823.99 L152.17,823.67 L153.68,823.33 L155.19,822.99 L156.69,822.64 L158.20,822.28 L159.71,821.91 L161.22,821.54 L162.73,821.15 L164.24,820.76 L165.75,820.36 L167.25,819.94 L168.76,819.52 L170.27,819.09 L171.78,818.65 L173.29,818.20 L174.80,817.73 L176.31,817.26 L177.82,816.77 L179.32,816.28 L180.83,815.77 L182.34,815.25 L183.85,814.72 L185.36,814.17 L186.87,813.62 L188.38,813.05 L189.88,812.46 L191.39,811.86 L192.90,811.25 L194.41,810.63 L195.92,809.99 L197.43,809.33 L198.94,808.66 L200.45,807.98 L201.95,807.27 L203.46,806.56 L204.97,805.82 L206.48,805.07 L207.99,804.30 L209.50,803.51 L211.01,802.71 L212.51,801.88 L214.02,801.04 L215.53,800.18 L217.04,799.29 L218.55,798.39 L220.06,797.47 L221.57,796.52 L223.08,795.55 L224.58,794.56 L226.09,793.55 L227.60,792.52 L229.11,791.46 L230.62,790.38 L232.13,789.27 L233.64,788.13 L235.14,786.98 L236.65,785.79 L238.16,784.58 L239.67,783.34 L241.18,782.07 L242.69,780.78 L244.20,779.45 L245.71,778.10 L247.21,776.72 L248.72,775.30 L250.23,773.86 L251.74,772.38 L253.25,770.87 L254.76,769.33 L256.27,767.75 L257.77,766.14 L259.28,764.49 L260.79,762.81 L262.30,761.10 L263.81,759.35 L265.32,757.56 L266.83,755.73 L268.34,753.87 L269.84,751.97 L271.35,750.03 L272.86,748.05 L274.37,746.03 L275.88,743.98 L277.39,741.88 L278.90,739.74 L280.40,737.56 L281.91,735.35 L283.42,733.09 L284.93,730.79 L286.44,728.45 L287.95,726.07 L289.46,723.65 L290.97,721.18 L292.47,718.68 L293.98,716.14 L295.49,713.56 L297.00,710.94 L298.51,708.29 L300.02,705.60 L301.53,702.87 L303.03,700.11 L304.54,697.31 L306.05,694.49 L307.56,691.63 L309.07,688.75 L310.58,685.84 L312.09,682.90 L313.60,679.95 L315.10,676.97 L316.61,673.99 L318.12,670.98 L319.63,667.97 L321.14,664.96 L322.65,661.94 L324.16,658.93 L325.66,655.92 L327.17,652.92 L328.68,649.94 L330.19,646.98 L331.70,644.05 L333.21,641.15 L334.72,638.29 L336.23,635.47 L337.73,632.70 L339.24,629.99 L340.75,627.34 L342.26,624.76 L343.77,622.25 L345.28,619.83 L346.79,617.49 L348.29,615.25 L349.80,613.11 L351.31,611.09 L352.82,609.17 L354.33,607.38 L355.84,605.71 L357.35,604.17 L358.86,602.77 L360.36,601.51 L361.87,600.40 L363.38,599.44 L364.89,598.63 L366.40,597.98 L367.91,597.49 L369.42,597.16 L370.92,596.99 L372.43,596.98 L373.94,597.15 L375.45,597.51 L376.96,598.04 L378.47,598.75 L379.98,599.63 L381.49,600.69 L382.99,601.92 L384.50,603.32 L386.01,604.87 L387.52,606.59 L389.03,608.46 L390.54,610.48 L392.05,612.64 L393.55,614.94 L395.06,617.36 L396.57,619.92 L398.08,622.59 L399.59,625.37 L401.10,628.26 L402.61,631.24 L404.12,634.32 L405.62,637.47 L407.13,640.71 L408.64,644.01 L410.15,647.38 L411.66,650.80 L413.17,654.26 L414.68,657.77 L416.18,661.32 L417.69,664.89 L419.20,668.48 L420.71,672.09 L422.22,675.71 L423.73,679.33 L425.24,682.95 L426.75,686.56 L428.25,690.17 L429.76,693.75 L431.27,697.31 L432.78,700.85 L434.29,704.36 L435.80,707.84 L437.31,711.28 L438.81,714.68 L440.32,718.04 L441.83,721.35 L443.34,724.61 L444.85,727.83 L446.36,730.99 L447.87,734.10 L449.38,737.15 L450.88,740.14 L452.39,743.08 L453.90,745.96 L455.41,748.78 L456.92,751.54 L458.43,754.24 L459.94,756.87 L461.44,759.45 L462.95,761.96 L464.46,764.41 L465.97,766.80 L467.48,769.13 L468.99,771.40 L470.50,773.61 L472.01,775.76 L473.51,778.09 L475.02,780.38 L476.53,782.59 L478.04,784.73 L479.55,786.80 L481.06,788.79 L482.57,790.72 L484.07,792.59 L485.58,794.38 L487.09,796.11 L488.60,797.79 L490.11,799.40 L491.62,800.95 L493.13,802.45 L494.64,803.89 L496.14,805.27 L497.65,806.61 L499.16,807.89 L500.67,809.13 L502.18,810.32 L503.69,811.46 L505.20,812.56 L506.70,813.62 L508.21,814.64 L509.72,815.61 L511.23,816.55 L512.74,817.45 L514.25,818.32 L515.76,819.15 L517.27,819.87 L518.77,820.54 L520.28,821.20 L521.79,821.83 L523.30,822.43" stroke="#d62728" stroke-dasharray="3.30 5.44"/>
<path d="M70.70,834.03 L72.16,833.94 L73.62,833.85 L75.08,833.76 L76.54,833.66 L78.00,833.57 L79.46,833.47 L80.92,833.37 L82.38,833.27 L83.84,833.16 L85.30,833.06 L86.76,832.95 L88.22,832.83 L89.68,832.72 L91.14,832.60 L92.60,832.48 L94.06,832.36 L95.52,832.23 L96.98,832.10 L98.44,831.97 L99.90,831.84 L101.36,831.70 L102.82,831.56 L104.28,831.42 L105.74,831.27 L107.20,831.12 L108.66,830.97 L110.12,830.81 L111.58,830.65 L113.04,830.49 L114.50,830.32 L115.96,830.15 L117.42,829.97 L118.88,829.79 L120.34,829.61 L121.80,829.42 L123.26,829.23 L124.72,829.03 L126.18,828.83 L127.64,828.63 L129.10,828.42 L130.56,828.20 L132.02,827.98 L133.48,827.76 L134.94,827.53 L136.40,827.29 L137.86,827.05 L139.32,826.81 L140.78,826.56 L142.24,826.30 L143.70,826.04 L145.16,825.77 L146.62,825.49 L148.08,825.21 L149.54,824.93 L151.00,824.63 L152.46,824.33 L153.92,824.02 L155.38,823.71 L156.84,823.39 L158.30,823.06 L159.76,822.73 L161.22,822.38 L162.68,822.03 L164.14,821.67 L165.60,821.31 L167.06,820.93 L168.52,820.55 L169.98,820.15 L171.44,819.75 L172.90,819.34 L174.36,818.92 L175.82,818.49 L177.28,818.06 L178.74,817.61 L180.20,817.15 L181.66,816.68 L183.12,816.20 L184.58,815.71 L186.04,815.21 L187.50,814.70 L188.96,814.17 L190.42,813.64 L191.88,813.09 L193.34,812.53 L194.80,811.96 L196.26,811.37 L197.72,810.77 L199.18,810.16 L200.64,809.53 L202.10,808.89 L203.56,808.24 L205.02,807.57 L206.48,806.89 L207.94,806.19 L209.40,805.48 L210.86,804.75 L212.32,804.00 L213.78,803.24 L215.24,802.46 L216.70,801.66 L218.16,800.85 L219.62,800.02 L221.08,799.17 L222.54,798.30 L224.00,797.41 L225.46,796.51 L226.92,795.58 L228.38,794.63 L229.84,793.66 L231.30,792.67 L232.76,791.66 L234.22,790.63 L235.68,789.58 L237.14,788.50 L238.60,787.40 L240.06,786.28 L241.52,785.13 L242.98,783.96 L244.44,782.77 L245.90,781.55 L247.36,780.30 L248.82,779.03 L250.28,777.73 L251.74,776.40 L253.20,775.05 L254.66,773.67 L256.12,772.26 L257.58,770.82 L259.04,769.36 L260.50,767.87 L261.96,766.34 L263.42,764.79 L264.88,763.20 L266.34,761.59 L267.80,759.95 L269.26,758.27 L270.72,756.56 L272.18,754.82 L273.64,753.05 L275.10,751.25 L276.56,749.42 L278.02,747.55 L279.48,745.66 L280.94,743.73 L282.40,741.76 L283.86,739.77 L285.32,737.75 L286.78,735.69 L288.24,733.60 L289.70,731.49 L291.16,729.34 L292.62,727.16 L294.08,724.95 L295.54,722.72 L297.00,720.45 L298.46,718.16 L299.92,715.85 L301.38,713.50 L302.84,711.14 L304.30,708.75 L305.76,706.35 L307.22,703.92 L308.68,701.48 L310.14,699.02 L311.60,696.55 L313.06,694.06 L314.52,691.57 L315.98,689.07 L317.44,686.57 L318.90,684.07 L320.36,681.57 L321.82,679.07 L323.28,676.58 L324.74,674.11 L326.20,671.65 L327.66,669.21 L329.12,666.79 L330.58,664.40 L332.04,662.05 L333.50,659.73 L334.96,657.44 L336.42,655.21 L337.88,653.02 L339.34,650.89 L340.80,648.81 L342.26,646.80 L343.72,644.86 L345.18,642.99 L346.64,641.20 L348.10,639.49 L349.56,637.86 L351.02,636.33 L352.48,634.89 L353.94,633.55 L355.40,632.31 L356.86,631.18 L358.32,630.16 L359.78,629.25 L361.24,628.46 L362.70,627.78 L364.16,627.23 L365.62,626.80 L367.08,626.48 L368.54,626.30 L370.00,626.24 L371.46,626.30 L372.92,626.50 L374.38,626.84 L375.84,627.31 L377.30,627.90 L378.76,628.63 L380.22,629.49 L381.68,630.47 L383.14,631.58 L384.60,632.81 L386.06,634.15 L387.52,635.61 L388.98,637.18 L390.44,638.86 L391.90,640.65 L393.36,642.53 L394.82,644.51 L396.28,646.58 L397.74,648.73 L399.20,650.97 L400.66,653.29 L402.12,655.68 L403.58,658.13 L405.04,660.65 L406.50,663.23 L407.96,665.86 L409.42,668.54 L410.88,671.26 L412.34,674.02 L413.80,676.81 L415.26,679.64 L416.72,682.48 L418.18,685.35 L419.64,688.24 L421.10,691.14 L422.56,694.04 L424.02,696.95 L425.48,699.86 L426.94,702.77 L428.40,705.67 L429.86,708.55 L431.32,711.43 L432.78,714.29 L434.24,717.13 L435.70,719.95 L437.16,722.74 L438.62,725.51 L440.08,728.25 L441.54,730.96 L443.00,733.63 L444.46,736.27 L445.92,738.88 L447.38,741.44 L448.84,743.97 L450.30,746.46 L451.76,748.91 L453.22,751.31 L454.68,753.68 L456.14,756.00 L457.60,758.27 L459.06,760.51 L460.52,762.69 L461.98,764.84 L463.44,766.93 L464.90,768.99 L466.36,771.00 L467.82,772.96 L469.28,774.88 L470.74,776.75 L472.20,778.58 L473.66,780.62 L475.12,782.60 L476.58,784.52 L478.04,786.38 L479.50,788.19 L480.96,789.94 L482.42,791.64 L483.88,793.29 L485.34,794.88 L486.80,796.43 L488.26,797.92 L489.72,799.37 L491.18,800.77 L492.64,802.13 L494.10,803.44 L495.56,804.71 L497.02,805.93 L498.48,807.12 L499.94,808.26 L501.40,809.37 L502.86,810.43 L504.32,811.46 L505.78,812.46 L507.24,813.42 L508.70,814.34" stroke="#d62728" stroke-linecap="square"/>
</g>
<rect x="78.4" y="6.8" width="437.60" height="375.30" fill="none" stroke="#000" stroke-width="2.2"/>
<path d="M78.4,376.30h7.8M78.4,314.75h7.8M78.4,253.20h7.8M78.4,191.65h7.8M78.4,130.10h7.8M78.4,68.55h7.8M78.4,7.00h7.8M78.4,363.99h4.0M78.4,351.68h4.0M78.4,339.37h4.0M78.4,327.06h4.0M78.4,302.44h4.0M78.4,290.13h4.0M78.4,277.82h4.0M78.4,265.51h4.0M78.4,240.89h4.0M78.4,228.58h4.0M78.4,216.27h4.0M78.4,203.96h4.0M78.4,179.34h4.0M78.4,167.03h4.0M78.4,154.72h4.0M78.4,142.41h4.0M78.4,117.79h4.0M78.4,105.48h4.0M78.4,93.17h4.0M78.4,80.86h4.0M78.4,56.24h4.0M78.4,43.93h4.0M78.4,31.62h4.0M78.4,19.31h4.0M97.10,382.1v-7.8M210.50,382.1v-7.8M323.90,382.1v-7.8M437.30,382.1v-7.8M119.78,382.1v-4.0M142.46,382.1v-4.0M165.14,382.1v-4.0M187.82,382.1v-4.0M233.18,382.1v-4.0M255.86,382.1v-4.0M278.54,382.1v-4.0M301.22,382.1v-4.0M346.58,382.1v-4.0M369.26,382.1v-4.0M391.94,382.1v-4.0M414.62,382.1v-4.0M459.98,382.1v-4.0M482.66,382.1v-4.0M505.34,382.1v-4.0M78.4,837.90h7.8M78.4,747.83h7.8M78.4,657.76h7.8M78.4,567.69h7.8M78.4,819.89h4.0M78.4,801.87h4.0M78.4,783.86h4.0M78.4,765.84h4.0M78.4,729.82h4.0M78.4,711.80h4.0M78.4,693.79h4.0M78.4,675.77h4.0M78.4,639.75h4.0M78.4,621.73h4.0M78.4,603.72h4.0M78.4,585.70h4.0M78.4,549.68h4.0M78.4,531.66h4.0M78.4,513.65h4.0M78.4,495.63h4.0M78.00,854.6v-7.8M224.00,854.6v-7.8M370.00,854.6v-7.8M516.00,854.6v-7.8M107.20,854.6v-4.0M136.40,854.6v-4.0M165.60,854.6v-4.0M194.80,854.6v-4.0M253.20,854.6v-4.0M282.40,854.6v-4.0M311.60,854.6v-4.0M340.80,854.6v-4.0M399.20,854.6v-4.0M428.40,854.6v-4.0M457.60,854.6v-4.0M486.80,854.6v-4.0" stroke="#000" stroke-width="2.0" fill="none"/>
<rect x="78.4" y="479.5" width="437.60" height="375.10" fill="none" stroke="#000" stroke-width="2.2"/>
<text class="tl" transform="translate(70.30,384.60) scale(1,1.03)" text-anchor="end" >0</text>
<text class="tl" transform="translate(70.30,323.05) scale(1,1.03)" text-anchor="end" >1</text>
<text class="tl" transform="translate(70.30,261.50) scale(1,1.03)" text-anchor="end" >2</text>
<text class="tl" transform="translate(70.30,199.95) scale(1,1.03)" text-anchor="end" >3</text>
<text class="tl" transform="translate(70.30,138.40) scale(1,1.03)" text-anchor="end" >4</text>
<text class="tl" transform="translate(70.30,76.85) scale(1,1.03)" text-anchor="end" >5</text>
<text class="tl" transform="translate(70.30,15.30) scale(1,1.03)" text-anchor="end" >6</text>
<text class="tl" transform="translate(97.10,405.40) scale(1,1.03)" text-anchor="middle" >0.0</text>
<text class="tl" transform="translate(210.50,405.40) scale(1,1.03)" text-anchor="middle" >0.1</text>
<text class="tl" transform="translate(323.90,405.40) scale(1,1.03)" text-anchor="middle" >0.2</text>
<text class="tl" transform="translate(437.30,405.40) scale(1,1.03)" text-anchor="middle" >0.3</text>
<text class="tl" transform="translate(70.30,846.20) scale(1,1.03)" text-anchor="end" >0</text>
<text class="tl" transform="translate(70.30,756.13) scale(1,1.03)" text-anchor="end" >100</text>
<text class="tl" transform="translate(70.30,666.06) scale(1,1.03)" text-anchor="end" >200</text>
<text class="tl" transform="translate(70.30,575.99) scale(1,1.03)" text-anchor="end" >300</text>
<text class="tl" transform="translate(78.50,878.20) scale(1,1.03)" text-anchor="middle" textLength="27.5" lengthAdjust="spacingAndGlyphs">−2</text>
<text class="tl" transform="translate(224.50,878.20) scale(1,1.03)" text-anchor="middle" textLength="27.5" lengthAdjust="spacingAndGlyphs">−1</text>
<text class="tl" transform="translate(370.50,878.20) scale(1,1.03)" text-anchor="middle" >0</text>
<text class="tl" transform="translate(516.50,878.20) scale(1,1.03)" text-anchor="middle" >1</text>
<g class="lab">
<text font-family="Liberation Serif,serif" font-size="22" font-style="italic" x="241" y="437.5" textLength="28.5" lengthAdjust="spacingAndGlyphs">ρR</text>
<text font-family="Liberation Sans,sans-serif" font-size="21" x="276.5" y="437.5">(g</text>
<text font-family="Liberation Sans,sans-serif" font-size="21" x="297.5" y="437.5" textLength="7.5" lengthAdjust="spacingAndGlyphs">/</text>
<text font-family="Liberation Sans,sans-serif" font-size="22" x="306.6" y="437.5" textLength="27" lengthAdjust="spacingAndGlyphs">cm</text>
<text font-family="Liberation Sans,sans-serif" font-size="14.5" x="333.8" y="429">2</text>
<text font-family="Liberation Sans,sans-serif" font-size="21" x="345.2" y="437.5">)</text>
<g transform="translate(40.5,237.5) rotate(-90)"><text font-family="Liberation Serif,serif" font-size="22" font-style="italic" x="0" y="0">T</text><text font-family="Liberation Serif,serif" font-size="15" font-style="italic" x="14.3" y="3">i</text><text font-family="Liberation Sans,sans-serif" font-size="21" x="29.8" y="0">(keV)</text></g>
<text class="sl" transform="translate(17,672) rotate(-90)" text-anchor="middle" fill="#000">P (GBar)</text>
<text class="sl" x="297.5" y="908" text-anchor="middle" fill="#000">Time (s)</text>
<text font-family="Liberation Serif,serif" font-size="22" x="447" y="905" textLength="36.5" lengthAdjust="spacingAndGlyphs">×10</text>
<text font-family="Liberation Serif,serif" font-size="18" x="484.5" y="897.5" textLength="31.5" lengthAdjust="spacingAndGlyphs">−10</text>
</g>
<text class="sl" x="239" y="43.3" fill="#1f77b4" stroke="#1f77b4" style="font-size:22px" textLength="58.2" lengthAdjust="spacingAndGlyphs">Atzeni</text>
<text class="sl" x="279" y="135.8" fill="#d62728" stroke="#d62728" style="font-size:22px" textLength="90.2" lengthAdjust="spacingAndGlyphs">This work</text>
<text class="sl" x="254" y="555.4" fill="#1f77b4" stroke="#1f77b4" style="font-size:22px" textLength="58.2" lengthAdjust="spacingAndGlyphs">Atzeni</text>
<text class="sl" x="209" y="618.9" fill="#d62728" stroke="#d62728" style="font-size:22px" textLength="90.2" lengthAdjust="spacingAndGlyphs">This work</text>
</svg></body></html>
